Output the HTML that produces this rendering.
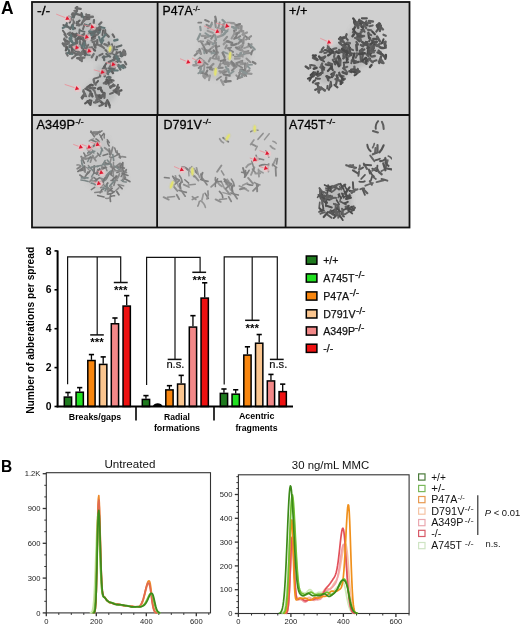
<!DOCTYPE html>
<html><head><meta charset="utf-8"><title>Figure</title>
<style>html,body{margin:0;padding:0;background:#fff;overflow:hidden;}svg{display:block;}text{font-family:'Liberation Sans',Arial,sans-serif;}</style>
</head><body>
<svg width="520" height="626" viewBox="0 0 520 626">
<rect width="520" height="626" fill="#fff"/>
<g style="font-family:'Liberation Sans',Arial,sans-serif" font-weight="bold" fill="#000">
<text x="0.9" y="13.8" font-size="17.6" font-weight="bold" textLength="12.6" lengthAdjust="spacingAndGlyphs" fill="#000">A</text>
<text x="1.0" y="472.3" font-size="17.4" font-weight="bold" textLength="11.2" lengthAdjust="spacingAndGlyphs" fill="#000">B</text>
</g>
<rect x="32" y="2" width="377.5" height="225.5" fill="#d0d0d0"/>
<defs><filter id="b2" x="-20%" y="-20%" width="140%" height="140%"><feGaussianBlur stdDeviation="2"/></filter><filter id="b4" x="-30%" y="-30%" width="160%" height="160%"><feGaussianBlur stdDeviation="4"/></filter><filter id="soft" x="0" y="0" width="100%" height="100%"><feGaussianBlur stdDeviation="0.55"/></filter><clipPath id="pc"><rect x="32" y="2" width="377.5" height="225.5"/></clipPath></defs>
<g clip-path="url(#pc)"><g filter="url(#soft)">
<polygon points="78.6,13.3 90.5,15.6 100.7,25.8 109.2,33.2 116.9,42.0 121.1,52.4 121.1,67.7 109.2,67.7 102.4,60.9 94.8,59.2 82.0,57.5 70.1,53.2 66.7,43.4 67.6,33.2 71.0,21.4" fill="#a8acac" opacity="0.45" filter="url(#b2)"/>
<polygon points="96.3,65.3 110.8,65.3 111.7,79.7 97.2,79.7" fill="#a8acac" opacity="0.45" filter="url(#b2)"/>
<polygon points="116.2,93.0 115.6,96.3 114.0,99.4 111.4,102.0 108.1,104.0 104.2,105.3 100.0,105.8 95.8,105.3 91.9,104.0 88.6,102.0 86.0,99.4 84.4,96.3 83.8,93.0 84.4,89.7 86.0,86.6 88.6,84.0 91.9,82.0 95.8,80.7 100.0,80.2 104.2,80.7 108.1,82.0 111.4,84.0 114.0,86.6 115.6,89.7" fill="#a8acac" opacity="0.45" filter="url(#b2)"/>
<path d="M95.5 35.4L92.0 38.1M89.8 32.1L92.2 34.6M86.5 50.6L85.1 55.1" fill="none" stroke="#5e5e5e" stroke-width="2.5" stroke-linecap="round"/>
<path d="M88.3 44.9L85.6 48.8M82.6 37.2Q84.6 39.1 87.4 38.8M64.3 38.4Q65.0 40.6 65.5 43.0M96.7 44.0L101.4 46.4M73.1 35.3L75.4 37.9M115.1 67.3L113.6 70.7M75.5 55.7L71.9 58.4" fill="none" stroke="#707070" stroke-width="2.0" stroke-linecap="round"/>
<path d="M121.2 65.6Q122.5 66.2 123.8 65.8M81.7 13.9Q82.1 16.2 83.8 18.0M88.6 34.5L85.2 36.0M69.8 39.2L72.1 41.9" fill="none" stroke="#607474" stroke-width="2.3" stroke-linecap="round"/>
<path d="M125.5 53.1L122.5 55.8M78.4 51.9Q79.8 53.3 80.5 55.2M69.1 35.0L72.2 36.0M122.9 65.0Q124.5 65.8 125.3 67.4M121.4 45.4L116.6 47.1M102.0 39.7Q102.3 41.8 101.5 43.9M108.4 68.2L111.2 68.4" fill="none" stroke="#646a6a" stroke-width="2.1" stroke-linecap="round"/>
<path d="M107.9 56.1L102.7 57.3M106.3 53.9L110.1 56.6M123.6 51.4L120.4 55.8M69.5 45.4Q71.0 45.9 71.5 47.4" fill="none" stroke="#646a6a" stroke-width="2.2" stroke-linecap="round"/>
<path d="M124.8 61.8L126.2 64.3M105.5 50.1L108.7 52.7" fill="none" stroke="#6a6a6a" stroke-width="2.2" stroke-linecap="round"/>
<path d="M93.7 54.0L91.8 57.2M104.3 44.2Q106.4 44.9 108.2 46.0M97.9 34.6L92.7 34.7M114.3 46.7L112.6 51.4M64.5 34.4L66.7 37.3" fill="none" stroke="#707070" stroke-width="2.3" stroke-linecap="round"/>
<path d="M105.2 30.1L105.1 33.9M84.0 40.8Q82.8 42.6 82.8 44.9M125.1 51.3L122.7 52.6M84.7 50.9Q82.9 52.2 81.0 53.4M79.8 35.7L76.8 39.7" fill="none" stroke="#686868" stroke-width="2.1" stroke-linecap="round"/>
<path d="M89.2 18.8L85.2 19.0M64.3 39.5Q66.3 41.2 68.8 42.0M84.1 34.1Q81.9 35.2 80.4 37.1M116.9 53.1L113.9 57.7M117.5 61.7Q115.7 61.8 114.2 62.9M114.7 59.5Q112.9 59.9 112.0 61.4" fill="none" stroke="#686868" stroke-width="2.4" stroke-linecap="round"/>
<path d="M77.5 38.3L76.2 43.5M110.7 63.6Q111.5 65.4 112.9 66.8M118.6 64.9Q118.9 67.5 120.4 69.6M114.7 57.7Q116.9 58.2 119.1 58.9M103.8 56.3L104.2 60.1" fill="none" stroke="#646a6a" stroke-width="2.3" stroke-linecap="round"/>
<path d="M102.6 53.9L99.3 55.5M84.6 24.2L83.0 29.1" fill="none" stroke="#6a6a6a" stroke-width="2.0" stroke-linecap="round"/>
<path d="M84.6 40.9L86.1 46.0M75.4 12.9Q73.2 13.0 71.7 14.8M73.1 19.9Q73.4 21.5 74.4 22.7M112.2 64.1Q110.4 65.1 109.6 66.9" fill="none" stroke="#707070" stroke-width="1.9" stroke-linecap="round"/>
<path d="M97.1 56.7L96.0 60.0M75.6 8.2L80.7 8.8M112.6 34.4L114.2 37.0M112.2 60.5L108.7 62.1M90.6 25.0L87.2 26.0" fill="none" stroke="#686868" stroke-width="2.2" stroke-linecap="round"/>
<path d="M78.3 57.8Q79.2 59.1 80.1 60.2M120.4 51.9Q118.5 52.9 116.5 52.1M68.3 43.6L64.3 45.5M122.9 53.3Q124.4 53.2 125.4 54.4M93.7 31.0Q93.0 33.2 94.0 35.3M94.1 43.0Q93.6 45.3 94.8 47.3M81.1 53.3Q83.8 54.4 86.5 53.7" fill="none" stroke="#686868" stroke-width="2.0" stroke-linecap="round"/>
<path d="M80.9 54.4L75.5 55.0M113.9 54.5L117.7 57.0M112.3 49.1Q114.7 49.7 117.2 49.6M72.3 13.4L74.4 15.0M118.0 56.1Q116.6 57.3 115.0 58.3" fill="none" stroke="#646a6a" stroke-width="1.9" stroke-linecap="round"/>
<path d="M76.7 47.7L75.8 51.3M116.8 64.8L118.8 66.3M69.0 42.9L64.8 43.5M88.1 50.1L88.5 53.5M95.5 41.3L92.6 42.1M84.4 57.7L80.0 57.7M72.5 33.1L70.6 35.8" fill="none" stroke="#707070" stroke-width="2.2" stroke-linecap="round"/>
<path d="M74.3 10.7L76.9 11.4M100.2 45.2Q102.6 46.2 104.2 48.3M117.9 60.4Q119.5 61.0 120.9 62.0M73.7 22.2L72.3 27.1M66.2 53.2L67.7 55.6M83.6 53.4Q85.8 54.1 88.0 54.7" fill="none" stroke="#707070" stroke-width="2.1" stroke-linecap="round"/>
<path d="M123.6 51.2Q124.2 53.1 125.1 54.9M83.7 49.9L80.4 54.1M116.0 55.3L117.5 59.2M79.9 41.2Q80.0 43.0 80.4 44.8M123.8 50.3L123.2 54.7M92.8 16.8L88.0 17.2" fill="none" stroke="#707070" stroke-width="2.5" stroke-linecap="round"/>
<path d="M99.0 37.0L100.7 42.0M71.8 41.0L73.5 43.9M95.2 32.3L91.1 35.4M99.6 26.4Q101.9 27.7 104.5 28.0" fill="none" stroke="#607474" stroke-width="2.1" stroke-linecap="round"/>
<path d="M116.2 56.3L118.6 60.6M77.0 41.4L73.4 44.4M100.2 28.3L99.4 32.5M89.3 31.4Q92.0 32.1 94.7 32.0M117.4 39.8L114.3 40.5" fill="none" stroke="#607474" stroke-width="2.5" stroke-linecap="round"/>
<path d="M77.2 58.3Q79.7 58.2 82.2 58.5M77.5 35.0Q75.7 36.1 73.6 36.2M90.1 24.1L91.7 27.7M80.5 46.5L82.6 48.3M105.4 33.4L108.7 36.7" fill="none" stroke="#6a6a6a" stroke-width="2.4" stroke-linecap="round"/>
<path d="M112.0 44.1Q111.9 45.6 112.5 47.0" fill="none" stroke="#6a6a6a" stroke-width="1.9" stroke-linecap="round"/>
<path d="M120.7 52.9Q120.6 54.7 121.8 56.1" fill="none" stroke="#646a6a" stroke-width="2.5" stroke-linecap="round"/>
<path d="M76.1 44.8L75.4 50.2M73.0 13.3L73.0 17.5" fill="none" stroke="#6a6a6a" stroke-width="2.1" stroke-linecap="round"/>
<path d="M100.3 29.5Q98.8 30.0 97.2 29.9M110.3 68.9L113.0 73.1M88.0 15.4Q86.7 17.1 84.6 17.3" fill="none" stroke="#5e5e5e" stroke-width="2.4" stroke-linecap="round"/>
<path d="M111.4 49.8L112.2 53.5M80.7 57.2Q81.6 59.0 81.8 61.1M77.5 53.3Q79.4 53.6 80.9 54.7" fill="none" stroke="#707070" stroke-width="2.4" stroke-linecap="round"/>
<path d="M77.0 6.4L76.9 10.5M62.8 43.4L64.3 45.5" fill="none" stroke="#6a6a6a" stroke-width="2.5" stroke-linecap="round"/>
<path d="M79.6 20.5L76.5 23.4" fill="none" stroke="#5e5e5e" stroke-width="2.1" stroke-linecap="round"/>
<path d="M103.1 30.1L102.4 35.1M81.5 13.0L81.6 16.7M72.3 24.8L70.3 29.0" fill="none" stroke="#5e5e5e" stroke-width="1.9" stroke-linecap="round"/>
<path d="M76.1 13.9L80.6 15.1" fill="none" stroke="#686868" stroke-width="2.3" stroke-linecap="round"/>
<path d="M69.6 38.3L71.9 41.8M86.0 24.9Q87.3 25.9 88.9 25.6M119.0 66.0L123.5 68.0M67.8 52.9Q70.0 53.5 72.4 53.9" fill="none" stroke="#607474" stroke-width="2.4" stroke-linecap="round"/>
<path d="M92.1 48.4L95.0 50.5M71.5 33.9L76.1 34.7M76.6 33.8L75.4 36.2M71.0 18.5L69.7 22.5" fill="none" stroke="#5e5e5e" stroke-width="2.3" stroke-linecap="round"/>
<path d="M67.0 47.3Q67.4 49.1 68.9 50.1M112.4 61.3Q113.5 62.7 113.7 64.5" fill="none" stroke="#607474" stroke-width="2.0" stroke-linecap="round"/>
<path d="M96.9 30.1Q95.1 31.2 94.1 33.0M82.9 39.6L84.7 41.4" fill="none" stroke="#686868" stroke-width="2.5" stroke-linecap="round"/>
<path d="M96.8 28.5Q97.0 31.0 98.4 33.0M69.1 51.0L70.0 53.7M114.8 64.2Q113.3 66.2 112.9 68.7" fill="none" stroke="#646a6a" stroke-width="2.4" stroke-linecap="round"/>
<path d="M84.7 20.1Q82.2 21.6 81.5 24.4M110.3 49.7L110.0 53.7M97.3 40.1Q97.5 42.5 96.7 44.7M77.1 21.9Q78.5 23.5 79.1 25.5M108.6 42.5L109.7 45.9M101.4 22.4L99.2 24.5" fill="none" stroke="#6a6a6a" stroke-width="2.3" stroke-linecap="round"/>
<path d="M63.4 25.1L66.1 25.9" fill="none" stroke="#5e5e5e" stroke-width="2.0" stroke-linecap="round"/>
<path d="M62.9 30.6Q64.4 32.4 65.5 34.5M86.2 14.2Q87.7 15.5 88.9 17.2" fill="none" stroke="#686868" stroke-width="1.9" stroke-linecap="round"/>
<path d="M105.5 34.6L102.0 38.8M114.0 70.4L117.7 70.5M103.3 40.1Q102.5 41.1 101.9 42.4" fill="none" stroke="#607474" stroke-width="2.2" stroke-linecap="round"/>
<path d="M85.1 53.6L89.9 55.0M68.6 16.5L71.8 17.4" fill="none" stroke="#607474" stroke-width="1.9" stroke-linecap="round"/>
<path d="M110.9 79.8L113.5 80.5M101.1 72.2L100.0 76.4M104.8 66.4L102.7 69.2" fill="none" stroke="#686868" stroke-width="2.3" stroke-linecap="round"/>
<path d="M108.7 76.8L110.3 80.5M103.8 70.8L104.7 76.2" fill="none" stroke="#646a6a" stroke-width="2.5" stroke-linecap="round"/>
<path d="M113.2 69.4L108.1 70.9" fill="none" stroke="#646a6a" stroke-width="2.2" stroke-linecap="round"/>
<path d="M104.4 66.9L105.8 69.1" fill="none" stroke="#686868" stroke-width="2.1" stroke-linecap="round"/>
<path d="M110.5 77.3Q108.7 77.0 107.0 77.5" fill="none" stroke="#646a6a" stroke-width="2.3" stroke-linecap="round"/>
<path d="M105.2 72.6L101.4 73.5" fill="none" stroke="#607474" stroke-width="2.4" stroke-linecap="round"/>
<path d="M105.7 69.4L108.1 74.1" fill="none" stroke="#6a6a6a" stroke-width="2.3" stroke-linecap="round"/>
<path d="M110.3 71.2L107.5 73.2" fill="none" stroke="#607474" stroke-width="2.2" stroke-linecap="round"/>
<path d="M106.0 68.6L106.2 73.3" fill="none" stroke="#707070" stroke-width="2.3" stroke-linecap="round"/>
<path d="M98.6 77.3L94.1 78.6" fill="none" stroke="#686868" stroke-width="1.9" stroke-linecap="round"/>
<path d="M106.5 63.0L104.2 66.6" fill="none" stroke="#5e5e5e" stroke-width="2.0" stroke-linecap="round"/>
<path d="M90.7 92.5L89.4 96.1M116.3 89.2L119.1 93.0M109.2 82.6L103.8 83.2M93.6 79.6Q93.8 82.5 95.7 84.7" fill="none" stroke="#6c6c6c" stroke-width="2.4" stroke-linecap="round"/>
<path d="M113.7 90.8L117.4 93.3M99.7 95.8Q99.8 97.5 98.5 98.6M111.7 82.0L107.5 82.8" fill="none" stroke="#6c6c6c" stroke-width="2.5" stroke-linecap="round"/>
<path d="M114.5 85.5L110.1 86.7M83.5 95.4L81.8 97.5M118.8 87.5Q116.3 88.8 114.4 90.9" fill="none" stroke="#646464" stroke-width="2.6" stroke-linecap="round"/>
<path d="M98.0 101.6Q96.2 102.8 94.0 102.4M113.3 84.3L110.4 88.0M84.4 95.1L82.2 98.6" fill="none" stroke="#646464" stroke-width="2.1" stroke-linecap="round"/>
<path d="M100.5 88.8L102.1 91.7M100.7 87.9Q99.3 88.0 98.1 88.8M91.7 93.8Q91.5 95.2 92.4 96.3M91.2 84.8L87.4 87.4M110.7 80.7L105.7 81.7M104.2 93.0L101.0 97.8" fill="none" stroke="#5a5a5a" stroke-width="2.6" stroke-linecap="round"/>
<path d="M87.6 101.2L90.4 104.7" fill="none" stroke="#5a5a5a" stroke-width="2.4" stroke-linecap="round"/>
<path d="M90.3 85.0L92.9 85.1M98.1 80.9L96.5 82.8" fill="none" stroke="#5a5a5a" stroke-width="2.0" stroke-linecap="round"/>
<path d="M86.5 89.1L90.5 91.3" fill="none" stroke="#5a5a5a" stroke-width="2.2" stroke-linecap="round"/>
<path d="M95.1 88.1Q92.5 87.9 89.9 88.3M96.7 95.5Q99.6 95.6 102.5 95.9M104.6 93.7L104.4 97.7" fill="none" stroke="#646464" stroke-width="2.4" stroke-linecap="round"/>
<path d="M92.4 87.3Q92.7 89.1 93.9 90.6M110.2 81.6L108.5 84.7M94.5 90.5L95.8 95.3M109.0 103.4L109.8 107.6" fill="none" stroke="#6c6c6c" stroke-width="2.0" stroke-linecap="round"/>
<path d="M108.0 80.1Q107.6 82.3 106.0 83.8" fill="none" stroke="#646464" stroke-width="2.3" stroke-linecap="round"/>
<path d="M106.6 79.5L108.4 82.6M121.3 90.4Q118.5 91.2 115.7 91.7M100.5 101.5L102.6 103.2" fill="none" stroke="#5a5a5a" stroke-width="2.5" stroke-linecap="round"/>
<path d="M89.7 87.3Q87.2 87.5 85.2 88.9M118.0 84.8Q116.5 87.2 116.8 90.1M104.2 103.5Q102.0 105.3 99.2 105.9M113.0 92.8L110.0 93.9M83.8 95.1Q85.1 95.2 86.1 96.2" fill="none" stroke="#646464" stroke-width="2.0" stroke-linecap="round"/>
<path d="M89.9 100.1L85.2 103.4M99.4 95.5L97.6 99.5M108.0 101.5L109.6 105.5M107.3 100.3Q105.8 102.9 105.9 105.9" fill="none" stroke="#5a5a5a" stroke-width="2.3" stroke-linecap="round"/>
<path d="M96.8 99.1L95.6 102.3M118.4 90.1L118.9 94.7" fill="none" stroke="#6c6c6c" stroke-width="2.3" stroke-linecap="round"/>
<path d="M83.3 91.6Q84.4 93.0 85.3 94.6M107.1 101.4L105.9 105.9" fill="none" stroke="#646464" stroke-width="2.2" stroke-linecap="round"/>
<path d="M96.2 96.9Q98.6 98.7 100.3 101.1M83.4 90.2L85.0 95.9" fill="none" stroke="#6c6c6c" stroke-width="2.2" stroke-linecap="round"/>
<path d="M91.5 100.6Q90.8 102.0 90.8 103.7" fill="none" stroke="#5a5a5a" stroke-width="2.1" stroke-linecap="round"/>
<path d="M82.1 36.6L85.3 40.3M79.9 24.8Q78.4 24.7 76.9 25.2" fill="none" stroke="#6a6a6a" stroke-width="2.2" stroke-linecap="round"/>
<path d="M84.6 53.6L79.5 54.5M92.1 47.5L88.3 49.9M86.6 47.8L89.9 51.9" fill="none" stroke="#707070" stroke-width="2.2" stroke-linecap="round"/>
<path d="M77.6 50.7L80.2 54.2M89.2 15.2L86.6 15.4" fill="none" stroke="#707070" stroke-width="2.5" stroke-linecap="round"/>
<path d="M66.2 25.0Q65.2 27.3 62.8 27.9" fill="none" stroke="#607474" stroke-width="2.2" stroke-linecap="round"/>
<path d="M72.1 27.2Q73.5 27.9 75.0 28.3" fill="none" stroke="#5e5e5e" stroke-width="2.3" stroke-linecap="round"/>
<path d="M65.2 45.2Q65.9 46.3 65.9 47.6M95.4 27.7Q95.5 29.9 97.2 31.3" fill="none" stroke="#707070" stroke-width="2.3" stroke-linecap="round"/>
<path d="M79.6 29.5L79.2 33.1M90.3 49.1L90.5 51.6" fill="none" stroke="#707070" stroke-width="1.9" stroke-linecap="round"/>
<path d="M77.3 42.6Q76.4 44.1 75.5 45.7M94.0 20.1L93.7 23.1M95.0 44.7Q95.4 46.2 95.5 47.7" fill="none" stroke="#686868" stroke-width="2.2" stroke-linecap="round"/>
<path d="M72.0 48.9L76.0 51.1M66.8 23.2Q66.2 25.0 66.9 26.7" fill="none" stroke="#646a6a" stroke-width="2.2" stroke-linecap="round"/>
<path d="M71.7 46.8L72.1 52.1M84.1 49.2Q83.9 51.6 85.3 53.6" fill="none" stroke="#5e5e5e" stroke-width="2.1" stroke-linecap="round"/>
<path d="M71.9 51.5L76.4 54.2" fill="none" stroke="#6a6a6a" stroke-width="2.4" stroke-linecap="round"/>
<path d="M80.9 45.4L76.1 47.5" fill="none" stroke="#607474" stroke-width="1.9" stroke-linecap="round"/>
<path d="M67.0 47.3L65.9 50.3M77.9 38.6Q79.5 38.3 81.1 38.9" fill="none" stroke="#5e5e5e" stroke-width="2.4" stroke-linecap="round"/>
<path d="M99.9 27.2L95.5 30.1" fill="none" stroke="#686868" stroke-width="2.4" stroke-linecap="round"/>
<path d="M85.4 17.7Q83.8 19.1 83.3 21.2" fill="none" stroke="#707070" stroke-width="2.4" stroke-linecap="round"/>
<path d="M89.4 47.6L92.0 47.6M70.3 32.5Q69.0 33.3 67.6 33.9" fill="none" stroke="#707070" stroke-width="2.1" stroke-linecap="round"/>
<path d="M71.0 35.2Q71.6 37.6 71.1 40.1" fill="none" stroke="#607474" stroke-width="2.3" stroke-linecap="round"/>
<path d="M76.3 12.8Q74.4 14.9 73.9 17.7M90.7 29.4Q92.6 29.5 94.2 30.5M79.8 30.4L84.6 31.8" fill="none" stroke="#646a6a" stroke-width="1.9" stroke-linecap="round"/>
<path d="M72.6 44.5L69.4 47.0M66.6 26.2Q68.5 26.8 69.9 28.3" fill="none" stroke="#646a6a" stroke-width="2.4" stroke-linecap="round"/>
<path d="M96.4 31.5L91.9 33.3" fill="none" stroke="#646a6a" stroke-width="2.3" stroke-linecap="round"/>
<path d="M72.4 25.6L73.1 29.0" fill="none" stroke="#607474" stroke-width="2.5" stroke-linecap="round"/>
<path d="M79.3 45.2L82.8 46.3" fill="none" stroke="#607474" stroke-width="2.1" stroke-linecap="round"/>
<path d="M84.2 42.8L84.4 48.3" fill="none" stroke="#607474" stroke-width="2.0" stroke-linecap="round"/>
<path d="M75.6 39.6L76.3 42.6" fill="none" stroke="#686868" stroke-width="2.1" stroke-linecap="round"/>
<path d="M95.2 38.1L91.4 40.4" fill="none" stroke="#707070" stroke-width="2.0" stroke-linecap="round"/>
<line x1="56.2" y1="14.1" x2="69.6" y2="19.4" stroke="#ec8890" stroke-width="0.9" stroke-opacity="0.85"/>
<circle cx="68.0" cy="18.8" r="3.4" fill="#f4c4c8" opacity="0.6"/>
<polygon points="69.6,19.4 65.4,20.1 67.0,16.0" fill="#e01830"/>
<line x1="84" y1="25" x2="94.5" y2="27.4" stroke="#ec8890" stroke-width="0.9" stroke-opacity="0.85"/>
<circle cx="92.9" cy="27.0" r="3.4" fill="#f4c4c8" opacity="0.6"/>
<polygon points="94.5,27.4 90.5,28.8 91.5,24.4" fill="#e01830"/>
<line x1="76.8" y1="34.7" x2="89" y2="37.6" stroke="#ec8890" stroke-width="0.9" stroke-opacity="0.85"/>
<circle cx="87.4" cy="37.2" r="3.4" fill="#f4c4c8" opacity="0.6"/>
<polygon points="89.0,37.6 84.9,38.9 86.0,34.6" fill="#e01830"/>
<line x1="72" y1="46.8" x2="79.2" y2="48" stroke="#ec8890" stroke-width="0.9" stroke-opacity="0.85"/>
<circle cx="77.5" cy="47.7" r="3.4" fill="#f4c4c8" opacity="0.6"/>
<polygon points="79.2,48.0 75.2,49.6 76.0,45.2" fill="#e01830"/>
<line x1="84" y1="49.2" x2="91.4" y2="51.7" stroke="#ec8890" stroke-width="0.9" stroke-opacity="0.85"/>
<circle cx="89.8" cy="51.2" r="3.4" fill="#f4c4c8" opacity="0.6"/>
<polygon points="91.4,51.7 87.2,52.7 88.7,48.4" fill="#e01830"/>
<line x1="106" y1="62.6" x2="115.6" y2="65" stroke="#ec8890" stroke-width="0.9" stroke-opacity="0.85"/>
<circle cx="114.0" cy="64.6" r="3.4" fill="#f4c4c8" opacity="0.6"/>
<polygon points="115.6,65.0 111.5,66.3 112.6,61.9" fill="#e01830"/>
<line x1="93.8" y1="69.8" x2="104.7" y2="72.8" stroke="#ec8890" stroke-width="0.9" stroke-opacity="0.85"/>
<circle cx="103.1" cy="72.4" r="3.4" fill="#f4c4c8" opacity="0.6"/>
<polygon points="104.7,72.8 100.6,74.0 101.8,69.7" fill="#e01830"/>
<line x1="64.7" y1="84.4" x2="79.2" y2="89.2" stroke="#ec8890" stroke-width="0.9" stroke-opacity="0.85"/>
<circle cx="77.6" cy="88.7" r="3.4" fill="#f4c4c8" opacity="0.6"/>
<polygon points="79.2,89.2 75.0,90.2 76.4,85.9" fill="#e01830"/>
<ellipse cx="110" cy="49" rx="2.7" ry="4.2" fill="#d0d0b0" opacity="0.6" transform="rotate(10 110 49)"/>
<ellipse cx="110" cy="49" rx="1.275" ry="3.0" fill="#e4e46a" opacity="0.9" transform="rotate(10 110 49)"/>
<polygon points="202.5,25.4 215.7,24.0 230.5,24.6 237.8,29.7 245.0,40.1 250.9,50.3 249.5,62.2 245.0,70.7 234.8,75.4 222.9,79.8 211.3,78.4 205.4,73.8 198.0,66.5 199.6,54.6 201.0,44.4 202.5,32.7" fill="#b4b4b4" opacity="0.5" filter="url(#b2)"/>
<path d="M206.5 24.8Q208.4 25.9 210.4 26.8M200.7 41.3Q202.4 44.0 203.9 46.8M224.6 58.8Q224.4 61.2 223.1 63.3M235.5 67.3L232.0 70.6M228.8 48.1Q230.7 50.9 230.1 54.3M233.1 63.0L236.6 66.8M197.6 62.5L194.8 65.3" fill="none" stroke="#858585" stroke-width="2.0" stroke-linecap="round"/>
<path d="M228.6 41.2Q225.5 41.6 223.7 44.2M246.8 73.4Q249.1 73.7 251.5 73.8M221.1 80.1L223.5 84.7M245.4 63.4Q243.0 64.3 240.5 64.0M218.6 56.6L218.7 60.1" fill="none" stroke="#969696" stroke-width="2.3" stroke-linecap="round"/>
<path d="M242.9 70.1Q243.8 71.7 245.0 73.1M202.2 48.5L206.8 52.4M251.6 44.1L247.9 46.5M244.4 70.9L246.9 73.2M239.6 30.7L243.3 31.1M238.7 24.7L241.2 27.9" fill="none" stroke="#969696" stroke-width="2.2" stroke-linecap="round"/>
<path d="M223.0 30.0L227.5 31.3M233.6 71.2L229.7 74.3M252.0 64.7L248.6 64.9M223.5 51.7Q225.8 53.1 228.4 53.8" fill="none" stroke="#8a9494" stroke-width="1.8" stroke-linecap="round"/>
<path d="M213.5 63.9L210.4 66.7M223.6 60.4Q225.6 62.6 228.5 62.8M205.2 62.6L202.4 64.2M224.0 23.9Q222.5 26.7 222.2 29.8M218.0 52.4Q216.2 54.5 216.2 57.2M242.3 77.0L238.5 77.7M227.0 36.9L224.1 40.4M250.1 53.0Q247.0 53.4 243.9 53.5" fill="none" stroke="#8e8e8e" stroke-width="2.2" stroke-linecap="round"/>
<path d="M222.3 28.5Q220.7 29.7 218.9 30.7M226.2 77.4L225.8 81.9M239.2 32.4L236.2 33.7M216.0 68.9Q213.1 69.9 210.1 69.1" fill="none" stroke="#858585" stroke-width="2.4" stroke-linecap="round"/>
<path d="M221.9 28.9Q221.6 31.2 220.6 33.2M216.0 42.8Q214.0 42.7 212.6 44.1M204.6 49.8Q204.2 51.4 204.5 53.0M228.0 69.1L228.8 72.3" fill="none" stroke="#8a9494" stroke-width="2.3" stroke-linecap="round"/>
<path d="M240.1 36.2Q238.2 38.0 235.6 38.3M243.2 43.0Q242.9 46.3 240.9 48.9M243.5 39.2L243.4 43.5M222.7 67.8L218.4 67.9M213.8 35.0L211.2 38.7M199.5 49.1L200.9 54.0" fill="none" stroke="#858585" stroke-width="2.1" stroke-linecap="round"/>
<path d="M199.5 64.4Q196.6 65.5 193.4 65.2M221.7 35.5L217.8 36.9M209.9 75.7Q206.9 76.5 203.9 77.1M231.8 54.6Q231.0 57.2 228.8 58.8M227.5 22.9Q230.7 22.7 233.8 23.3M246.9 32.5L242.5 34.6" fill="none" stroke="#969696" stroke-width="2.4" stroke-linecap="round"/>
<path d="M231.1 47.4Q229.6 48.7 227.5 48.3M216.8 52.2L213.0 57.0M210.9 35.9Q207.7 36.4 204.9 38.1M213.2 46.6L208.4 50.7M236.8 64.5L242.2 67.7" fill="none" stroke="#858585" stroke-width="1.9" stroke-linecap="round"/>
<path d="M235.9 27.3Q236.6 28.8 235.9 30.4M235.3 24.6Q237.8 25.7 238.8 28.2M209.9 42.7Q207.8 43.9 205.4 44.5M241.6 26.1Q241.0 28.7 241.4 31.3M224.8 64.0L228.9 64.3" fill="none" stroke="#8e8e8e" stroke-width="2.3" stroke-linecap="round"/>
<path d="M234.0 30.3Q234.5 32.1 234.7 34.0M245.1 35.9L249.3 38.9M237.3 33.5Q236.5 36.7 234.1 38.9" fill="none" stroke="#7e7e7e" stroke-width="1.9" stroke-linecap="round"/>
<path d="M221.0 76.6L216.8 79.8M219.3 46.2Q217.7 46.4 216.4 47.4M204.6 62.6L207.7 64.5M243.0 72.2L246.3 76.0M240.0 70.8L240.0 73.9" fill="none" stroke="#858585" stroke-width="1.8" stroke-linecap="round"/>
<path d="M214.9 45.5Q213.5 46.8 211.9 47.7M234.6 33.2L231.6 38.4M201.8 35.9Q204.9 35.6 207.8 36.8" fill="none" stroke="#969696" stroke-width="2.1" stroke-linecap="round"/>
<path d="M252.7 62.0L255.4 63.6M222.6 52.7L224.6 57.1M223.8 74.4L229.6 75.7M236.5 44.0Q234.1 45.4 231.3 44.8M230.6 81.1L224.4 81.5M201.2 72.6L207.1 74.7M217.6 28.4L221.8 31.9M213.6 50.5L215.7 53.7" fill="none" stroke="#7e7e7e" stroke-width="2.3" stroke-linecap="round"/>
<path d="M203.7 71.1Q200.5 71.0 198.3 73.3M200.5 65.5Q200.5 67.4 200.9 69.3M244.7 53.9L239.8 56.6M247.0 65.7L249.8 68.4" fill="none" stroke="#8a9494" stroke-width="1.9" stroke-linecap="round"/>
<path d="M214.9 20.8L215.8 27.1M211.9 22.6L210.5 26.8M236.3 75.3Q237.7 77.0 239.7 78.0" fill="none" stroke="#8e8e8e" stroke-width="2.0" stroke-linecap="round"/>
<path d="M205.3 50.0L211.4 51.9M198.3 50.8Q197.5 53.9 194.7 55.4M245.1 63.9L245.2 70.2M203.2 64.9L198.9 67.9" fill="none" stroke="#858585" stroke-width="2.3" stroke-linecap="round"/>
<path d="M220.6 63.6L218.8 67.8M227.6 62.7L228.3 65.9M249.3 70.4L245.7 72.4M203.6 61.1L199.6 63.1" fill="none" stroke="#8e8e8e" stroke-width="2.4" stroke-linecap="round"/>
<path d="M222.6 24.5Q224.4 26.4 224.5 29.0M230.2 62.8L234.6 67.3M226.7 45.4L225.3 48.4M210.4 58.2L208.8 61.5M236.9 48.6L241.4 50.5" fill="none" stroke="#8e8e8e" stroke-width="2.1" stroke-linecap="round"/>
<path d="M200.9 68.1Q199.8 70.6 200.5 73.2M233.5 27.0Q234.7 28.3 236.5 28.5M205.4 33.2L209.5 36.1M214.6 53.0Q213.0 52.6 211.5 53.5M228.3 29.0L224.4 34.2" fill="none" stroke="#8a9494" stroke-width="2.0" stroke-linecap="round"/>
<path d="M231.4 61.3L234.2 65.6M207.3 70.6Q206.2 73.9 203.4 75.8M240.1 24.1L236.7 25.1" fill="none" stroke="#7e7e7e" stroke-width="2.1" stroke-linecap="round"/>
<path d="M252.9 50.2Q251.5 52.1 251.2 54.4M211.4 67.4L207.2 67.6M235.8 47.6L239.4 47.8M229.5 54.4L233.3 55.1M205.1 20.0L208.8 21.6M240.4 69.4L243.8 69.9M225.4 59.9L220.4 60.9M207.2 42.0L209.4 44.4M230.1 50.5Q231.5 51.1 232.9 51.9" fill="none" stroke="#7e7e7e" stroke-width="2.0" stroke-linecap="round"/>
<path d="M227.2 41.3L232.1 42.8" fill="none" stroke="#7e7e7e" stroke-width="2.4" stroke-linecap="round"/>
<path d="M240.8 70.5L246.4 73.5M200.2 34.0L197.6 39.5M222.4 19.9Q223.8 21.1 225.1 22.5M215.1 34.7L216.0 39.9M231.8 26.8L234.6 28.3M199.0 58.8L195.5 61.8" fill="none" stroke="#8a9494" stroke-width="2.2" stroke-linecap="round"/>
<path d="M225.8 32.0L222.8 35.1M244.3 72.4Q243.0 74.0 241.7 75.8M239.2 39.2Q240.4 40.3 241.7 41.2" fill="none" stroke="#8a9494" stroke-width="2.4" stroke-linecap="round"/>
<path d="M209.9 75.7L209.0 80.2M203.6 74.6L204.9 78.3M247.6 63.1Q246.3 65.2 245.8 67.6M207.6 30.9L212.9 32.9M240.9 48.3L244.5 53.2" fill="none" stroke="#969696" stroke-width="2.0" stroke-linecap="round"/>
<path d="M242.2 60.9L236.3 63.2M199.9 58.0L202.2 60.0M241.6 40.2L238.2 43.5M226.3 71.5L222.6 72.8" fill="none" stroke="#858585" stroke-width="2.2" stroke-linecap="round"/>
<path d="M236.7 54.2L240.9 56.4M204.6 64.0L204.0 70.3M196.7 51.4L200.7 53.6" fill="none" stroke="#969696" stroke-width="1.8" stroke-linecap="round"/>
<path d="M204.2 47.4L206.8 53.0M201.3 22.6L198.3 22.7M239.4 74.4Q238.8 76.9 237.5 79.0" fill="none" stroke="#7e7e7e" stroke-width="1.8" stroke-linecap="round"/>
<path d="M239.7 58.6L234.8 58.8M243.1 44.5L238.5 47.0M240.3 53.0L242.8 56.7M248.0 46.5Q246.1 47.6 244.0 48.1M243.2 31.9Q243.4 33.4 243.4 35.0M207.9 40.2L212.1 42.8" fill="none" stroke="#969696" stroke-width="1.9" stroke-linecap="round"/>
<path d="M203.2 41.3Q200.9 41.3 198.6 41.4M244.2 36.8L242.6 42.7M240.6 61.5L243.5 63.4" fill="none" stroke="#8e8e8e" stroke-width="1.8" stroke-linecap="round"/>
<path d="M238.9 72.9Q242.4 73.2 244.5 76.0M229.0 26.3L225.2 26.4M219.3 71.3L222.7 71.8M212.1 57.9Q215.1 59.4 218.4 58.5M246.4 58.5L250.4 62.2M234.8 56.6L238.2 56.6M251.2 36.1L246.0 39.6M248.5 50.9Q246.8 52.1 244.7 51.6M214.6 40.7Q215.7 43.0 216.3 45.5M225.0 70.0L220.3 72.8M219.6 22.4L218.3 28.6" fill="none" stroke="#8e8e8e" stroke-width="1.9" stroke-linecap="round"/>
<path d="M215.2 16.7Q216.1 19.3 216.1 22.1M215.9 45.8L216.8 52.2M248.6 43.9L251.1 47.6" fill="none" stroke="#7e7e7e" stroke-width="2.2" stroke-linecap="round"/>
<path d="M241.2 52.9L238.4 56.2M200.2 26.7L200.7 30.3M250.5 45.3Q252.9 47.2 254.8 49.5M211.8 24.5L208.1 28.2M225.8 66.9L228.0 70.5M227.0 23.5L223.8 28.9" fill="none" stroke="#8a9494" stroke-width="2.1" stroke-linecap="round"/>
<line x1="204" y1="25.8" x2="219.5" y2="32.6" stroke="#ec8890" stroke-width="0.9" stroke-opacity="0.85"/>
<circle cx="218.0" cy="31.9" r="3.4" fill="#f4c4c8" opacity="0.6"/>
<polygon points="219.5,32.6 215.3,33.2 217.1,29.1" fill="#e01830"/>
<line x1="216" y1="23" x2="229.3" y2="26.7" stroke="#ec8890" stroke-width="0.9" stroke-opacity="0.85"/>
<circle cx="227.7" cy="26.2" r="3.4" fill="#f4c4c8" opacity="0.6"/>
<polygon points="229.3,26.7 225.2,27.9 226.4,23.6" fill="#e01830"/>
<line x1="180" y1="58.7" x2="190.4" y2="63" stroke="#ec8890" stroke-width="0.9" stroke-opacity="0.85"/>
<circle cx="188.8" cy="62.4" r="3.4" fill="#f4c4c8" opacity="0.6"/>
<polygon points="190.4,63.0 186.2,63.7 187.9,59.5" fill="#e01830"/>
<line x1="192" y1="58" x2="201.6" y2="63" stroke="#ec8890" stroke-width="0.9" stroke-opacity="0.85"/>
<circle cx="200.1" cy="62.2" r="3.4" fill="#f4c4c8" opacity="0.6"/>
<polygon points="201.6,63.0 197.3,63.3 199.4,59.3" fill="#e01830"/>
<ellipse cx="230" cy="56" rx="2.7" ry="5.2" fill="#d0d0b0" opacity="0.6" transform="rotate(5 230 56)"/>
<ellipse cx="230" cy="56" rx="1.275" ry="4.0" fill="#e4e46a" opacity="0.9" transform="rotate(5 230 56)"/>
<ellipse cx="215.5" cy="71.7" rx="2.7" ry="5.2" fill="#d0d0b0" opacity="0.6" transform="rotate(5 215.5 71.7)"/>
<ellipse cx="215.5" cy="71.7" rx="1.275" ry="4.0" fill="#e4e46a" opacity="0.9" transform="rotate(5 215.5 71.7)"/>
<polygon points="316.0,57.5 313.9,67.8 318.0,78.1 322.2,84.2 334.5,82.2 346.9,76.0 359.2,67.8 369.6,63.7 377.7,59.4 379.8,45.2 375.8,30.7 365.4,24.6 353.1,26.6 346.9,36.9 334.5,47.2 324.2,51.4" fill="#a0a0a0" opacity="0.45" filter="url(#b2)"/>
<path d="M359.5 71.4L354.7 72.3M385.8 54.9Q386.1 56.9 385.3 58.7M329.5 48.6Q331.4 50.2 333.3 51.8M354.1 34.1L352.5 36.3M346.8 55.1L347.5 59.6M331.8 52.5Q330.2 54.2 328.2 55.3M321.2 73.1Q319.4 74.1 317.5 74.8M349.8 47.7L349.3 51.9M319.1 56.5Q320.1 57.8 320.9 59.2M367.9 47.3L372.9 49.1M354.3 53.6L353.1 58.4M366.1 58.0L366.0 61.4" fill="none" stroke="#4a4a4a" stroke-width="2.5" stroke-linecap="round"/>
<path d="M376.1 44.2L378.1 46.2M331.0 86.3Q329.1 87.5 328.8 89.8M345.7 50.3L347.3 54.6M363.2 26.1Q363.0 28.3 363.1 30.5M316.0 78.2Q317.9 78.9 319.9 78.7M324.9 50.1Q326.5 49.8 327.7 50.9M342.6 82.6L340.5 84.0M372.6 48.2Q369.9 49.1 367.2 48.3M330.7 81.9L331.4 86.0M363.7 22.7L360.0 24.1M346.1 37.9Q346.6 39.1 347.8 39.8M324.5 57.4L321.3 57.7M337.5 57.2Q338.6 58.6 339.5 60.2M342.5 77.0L341.4 80.5M364.5 43.9L362.4 45.8M334.4 84.9L337.5 87.3" fill="none" stroke="#525252" stroke-width="2.1" stroke-linecap="round"/>
<path d="M374.7 45.3Q377.3 44.7 379.3 46.4M376.1 41.9L371.5 43.9M340.4 60.0Q340.1 62.6 340.1 65.3M313.1 57.9L317.1 59.8M319.5 88.4L318.4 91.6M376.8 25.5L378.9 28.6M335.6 79.2Q338.4 79.5 340.6 81.4M353.1 32.2Q354.7 32.5 356.2 32.9M364.0 36.0Q361.7 36.5 359.5 37.4" fill="none" stroke="#606060" stroke-width="2.6" stroke-linecap="round"/>
<path d="M384.6 44.2Q385.1 45.3 385.3 46.6M362.2 42.1Q363.7 43.3 365.3 44.4M313.9 57.4Q316.2 57.9 317.5 59.8M357.2 34.0L360.5 34.1M371.7 40.5Q373.9 42.4 376.8 41.8M329.7 49.1L328.3 51.4M382.2 54.3L384.6 56.9M357.4 39.1L359.5 41.1M358.7 61.9L354.3 62.9M359.9 51.0L362.2 52.3M347.9 43.0L348.8 46.2" fill="none" stroke="#525252" stroke-width="2.5" stroke-linecap="round"/>
<path d="M351.8 60.6L356.3 61.5M374.8 56.0Q373.3 56.3 371.8 56.6M385.5 42.3Q384.8 44.1 385.8 45.7M328.3 45.3Q328.1 47.1 328.8 48.7M378.6 50.5Q379.7 51.6 381.0 52.4M348.5 47.9L346.2 50.5M336.8 80.8L336.1 84.0M320.9 74.2Q319.4 75.2 317.7 76.0M346.6 34.3L345.5 37.3M360.8 45.0L363.0 46.3M322.2 69.1L322.5 72.8M379.9 59.4Q379.5 61.1 379.2 63.0M323.5 47.5Q321.4 49.3 321.3 52.0" fill="none" stroke="#5a5a5a" stroke-width="2.3" stroke-linecap="round"/>
<path d="M329.8 52.2L334.3 53.0M344.7 47.9L342.1 48.6M330.8 67.7L327.9 71.0M372.3 42.8L368.2 45.5M368.0 50.4L367.6 54.3M368.4 32.6Q368.4 35.3 369.0 37.9M365.6 43.5Q368.2 43.8 369.9 45.7M359.4 19.7L358.3 22.7M311.7 77.1Q309.9 78.0 308.0 78.7M371.4 52.9L368.6 54.0M357.1 73.3Q356.3 74.8 354.6 75.3M369.9 51.7L370.5 55.6M372.2 31.5L374.9 34.2" fill="none" stroke="#4a4a4a" stroke-width="2.2" stroke-linecap="round"/>
<path d="M338.5 55.9L340.0 59.3M371.6 65.1L370.0 67.0M313.5 72.7L310.8 75.1M369.8 58.5L366.6 60.5M353.2 18.4L355.9 22.2M347.0 51.3L346.1 55.7M317.8 71.8Q317.7 73.5 316.2 74.5M347.8 43.2L343.8 45.3M355.1 26.7L353.8 29.6" fill="none" stroke="#4a4a4a" stroke-width="2.4" stroke-linecap="round"/>
<path d="M375.0 50.5L371.2 51.9M326.7 52.4Q325.6 53.2 324.2 53.0M376.5 60.3L372.5 61.6M358.1 53.8Q356.5 55.5 355.8 57.7M366.3 21.1L364.8 24.0M352.1 60.1L351.3 63.3" fill="none" stroke="#5a5a5a" stroke-width="2.0" stroke-linecap="round"/>
<path d="M332.8 59.9Q334.5 61.9 335.3 64.5M374.0 48.0L371.3 48.1M334.0 73.4Q332.4 73.4 331.2 74.4M367.8 48.8L370.1 51.1M313.5 72.2L312.9 76.6M374.5 44.3L372.9 46.7" fill="none" stroke="#4a4a4a" stroke-width="2.1" stroke-linecap="round"/>
<path d="M321.3 88.6Q323.2 89.3 325.1 90.3M385.6 41.5L382.9 42.9M383.4 34.7Q384.6 35.3 385.8 35.8M339.0 75.1L343.6 76.3M336.4 48.3Q334.7 48.7 333.0 49.0M361.9 21.4Q359.8 23.0 357.2 23.4M368.0 29.9L371.1 30.3M372.7 25.4L369.4 26.3M359.0 22.1L362.2 23.0M365.8 22.6L370.3 23.1M357.5 22.2L355.3 26.1M372.0 45.8L369.9 49.8M335.1 52.0L334.0 57.0" fill="none" stroke="#606060" stroke-width="2.1" stroke-linecap="round"/>
<path d="M377.1 38.9L373.2 38.9M349.3 71.1L351.7 72.1M364.3 49.5L360.3 50.7M339.7 50.4L342.3 52.2M339.2 72.8L340.3 76.0M377.5 52.4L381.9 54.4M325.8 64.4Q328.4 65.3 331.0 64.8" fill="none" stroke="#525252" stroke-width="2.3" stroke-linecap="round"/>
<path d="M344.9 69.4L347.3 72.5M366.1 59.8L367.9 61.6M347.3 66.7L342.9 68.2M330.6 83.4L329.6 86.2M310.1 64.9L310.4 67.9M323.5 51.1L320.0 52.2M379.1 23.0L377.0 25.3" fill="none" stroke="#606060" stroke-width="2.0" stroke-linecap="round"/>
<path d="M352.0 53.4L349.9 55.0M340.1 37.9Q341.5 40.6 340.2 43.4M365.9 42.0L364.5 45.1M339.1 49.9L339.8 52.5M363.1 50.6Q361.6 50.6 360.6 51.8M381.0 56.4L380.2 60.0M344.2 51.0L343.4 56.3" fill="none" stroke="#5a5a5a" stroke-width="2.4" stroke-linecap="round"/>
<path d="M366.7 42.1Q367.3 44.6 369.7 45.7M349.8 55.4Q348.8 56.7 347.2 56.9M347.2 42.6Q348.6 42.9 349.9 43.2M356.4 53.4L361.2 54.2M369.7 52.1L373.8 52.4M344.4 37.5Q343.3 38.2 342.2 39.0M354.4 66.8L354.6 71.4M346.8 47.3L344.1 49.0M379.9 26.2L383.0 29.5" fill="none" stroke="#606060" stroke-width="2.4" stroke-linecap="round"/>
<path d="M362.1 49.0Q360.7 51.1 359.9 53.5M325.2 56.5Q323.6 58.0 322.1 59.7M344.7 78.8Q343.4 79.5 342.4 80.6M336.0 58.6Q336.9 61.0 335.7 63.2M318.5 83.3L315.6 83.7" fill="none" stroke="#5a5a5a" stroke-width="2.5" stroke-linecap="round"/>
<path d="M320.4 59.2L324.1 61.5M320.3 67.2Q322.4 68.1 324.0 69.7M327.5 86.0Q327.6 87.3 327.2 88.5M341.6 45.0Q343.5 46.0 345.6 45.7M340.4 37.1L342.0 41.5M353.9 20.8Q353.6 22.7 354.9 24.3M370.4 38.1L369.1 41.4M321.7 64.5Q322.3 66.7 324.4 67.8M361.3 29.8L364.6 31.7" fill="none" stroke="#525252" stroke-width="2.0" stroke-linecap="round"/>
<path d="M344.8 43.1L343.6 47.3M366.8 18.3L361.9 18.3M315.3 80.2Q313.6 80.8 312.9 82.5M368.2 49.0L369.1 54.3M317.3 84.3Q317.6 86.0 319.0 87.1M331.8 67.1Q331.8 68.8 332.8 70.1M367.1 42.1L364.7 43.7M318.4 88.0Q317.1 89.4 315.2 89.8" fill="none" stroke="#525252" stroke-width="2.2" stroke-linecap="round"/>
<path d="M362.9 54.8Q362.3 57.5 362.0 60.1M366.4 54.3L368.5 56.2M356.4 41.9L358.0 44.6M378.7 61.7Q380.7 61.7 382.2 63.0M357.7 68.9L358.6 72.1M311.4 65.0L314.8 65.8M336.6 51.3L340.4 51.7M339.9 60.2Q338.5 61.0 337.6 62.3M355.5 70.2Q356.9 71.2 357.8 72.7M378.6 28.3L376.3 31.6" fill="none" stroke="#5a5a5a" stroke-width="2.2" stroke-linecap="round"/>
<path d="M374.1 45.8L371.9 50.3M350.5 49.0L353.1 50.1M344.9 47.3Q343.7 49.7 343.7 52.4M344.0 64.6L344.2 69.5M360.5 56.4L360.9 61.6M368.5 33.6L371.2 35.1M339.0 42.7L343.5 45.9" fill="none" stroke="#5a5a5a" stroke-width="2.1" stroke-linecap="round"/>
<path d="M336.1 51.7Q337.2 52.9 338.9 52.9M311.0 77.8L309.6 80.6M346.4 57.3L346.8 60.4M346.1 52.4L350.6 53.6M344.3 50.3L347.0 52.7M348.2 62.2L343.7 62.8M383.5 39.3Q382.7 41.4 381.5 43.4" fill="none" stroke="#4a4a4a" stroke-width="2.0" stroke-linecap="round"/>
<path d="M363.9 30.2L360.8 32.3M368.9 21.0L372.9 21.5M379.9 43.8L377.0 45.7M359.4 35.4L360.8 40.6" fill="none" stroke="#606060" stroke-width="2.5" stroke-linecap="round"/>
<path d="M343.9 37.6Q341.4 37.8 339.2 38.9M349.5 51.1L351.1 55.0M363.8 23.1L367.3 25.2M342.7 72.2L346.6 73.9M377.3 25.1Q378.3 26.8 378.3 28.7M336.7 75.4L337.6 78.0M356.4 44.9L356.9 50.3M379.8 23.8L377.8 27.3M359.8 21.2L364.3 23.4M366.2 42.5L366.7 45.1" fill="none" stroke="#525252" stroke-width="2.6" stroke-linecap="round"/>
<path d="M335.3 58.8Q333.9 58.9 333.0 59.9M327.9 45.4Q328.4 46.9 327.6 48.3M318.1 88.2Q319.3 90.2 319.0 92.6M363.8 24.1L366.2 28.2M318.1 86.7Q319.0 88.4 320.5 89.6M362.1 61.3L366.4 63.6M380.7 58.9L383.6 63.1M355.1 37.9Q357.3 38.5 359.6 38.4M368.6 58.7L372.8 62.3" fill="none" stroke="#606060" stroke-width="2.3" stroke-linecap="round"/>
<path d="M333.5 74.9L331.8 76.8M342.0 49.4L345.9 51.7M364.7 53.2L359.4 54.1M336.0 61.6Q338.4 63.3 338.8 66.1M331.6 65.7L331.4 68.5M316.5 67.8L313.8 68.7M315.7 55.5Q314.4 55.9 313.0 55.5" fill="none" stroke="#4a4a4a" stroke-width="2.6" stroke-linecap="round"/>
<path d="M351.3 71.1Q353.2 71.2 354.8 72.3M326.4 76.3Q328.4 76.4 329.8 77.7M353.1 29.2L355.1 32.3M366.6 60.6Q365.7 62.1 366.4 63.7M360.4 23.8L361.8 27.0M341.2 76.5L343.1 79.1M365.7 57.9L362.2 61.0M341.2 81.4Q340.6 82.7 340.9 84.0" fill="none" stroke="#4a4a4a" stroke-width="2.3" stroke-linecap="round"/>
<path d="M380.3 47.5Q382.9 48.3 385.7 47.7M359.5 20.5L361.5 22.0M353.1 59.2L354.5 62.6M326.9 76.2L328.4 80.3M351.2 69.6Q353.9 68.9 356.3 70.3M305.7 66.5L308.5 68.5M362.3 36.0L357.3 36.2M315.1 72.5L313.8 75.8" fill="none" stroke="#525252" stroke-width="2.4" stroke-linecap="round"/>
<path d="M322.2 63.5L320.6 67.4M321.0 87.2L324.7 90.7M357.4 24.3Q358.9 25.2 360.6 25.7" fill="none" stroke="#606060" stroke-width="2.2" stroke-linecap="round"/>
<path d="M356.2 23.0L358.2 27.7M345.2 56.3L343.3 58.3M334.5 72.1L332.5 75.7M340.1 38.7L343.6 42.0M328.4 62.8Q330.1 63.8 332.0 64.2M380.8 25.5Q380.5 28.2 379.8 30.8M377.1 36.7L379.9 41.4" fill="none" stroke="#5a5a5a" stroke-width="2.6" stroke-linecap="round"/>
<line x1="320.3" y1="38.3" x2="331.2" y2="43.2" stroke="#ec8890" stroke-width="0.9" stroke-opacity="0.85"/>
<circle cx="329.7" cy="42.5" r="3.4" fill="#f4c4c8" opacity="0.6"/>
<polygon points="331.2,43.2 327.0,43.8 328.8,39.7" fill="#e01830"/>
<polygon points="94.2,136.4 108.6,138.5 110.7,148.8 119.0,157.0 125.2,171.3 127.1,181.7 120.9,187.9 110.7,194.1 98.3,192.0 90.1,185.7 83.9,177.6 81.8,165.3 86.1,157.0 92.0,148.8" fill="#bababa" opacity="0.45" filter="url(#b2)"/>
<path d="M118.4 184.7Q120.1 186.9 122.1 188.7M96.1 139.0Q98.7 140.0 99.4 142.6M126.3 169.7L124.0 174.6M117.6 167.0L124.3 168.1M107.4 187.1Q109.2 190.4 112.8 191.4" fill="none" stroke="#7a7a7a" stroke-width="1.8" stroke-linecap="round"/>
<path d="M117.1 150.9L117.2 154.4M116.1 175.8Q116.5 179.4 113.9 182.0" fill="none" stroke="#838383" stroke-width="1.6" stroke-linecap="round"/>
<path d="M107.0 175.1L106.3 179.3M92.8 155.5L90.4 162.1M110.5 166.4Q111.6 168.0 113.6 168.2M98.8 154.3L95.2 157.8" fill="none" stroke="#8a8a8a" stroke-width="1.7" stroke-linecap="round"/>
<path d="M81.1 156.4L84.3 163.2M112.2 188.4L108.1 191.7M102.2 189.3L100.0 192.8M107.4 141.5Q107.6 144.1 109.2 146.0M123.6 170.2L116.9 172.4M107.8 154.1L103.1 155.5" fill="none" stroke="#747474" stroke-width="1.6" stroke-linecap="round"/>
<path d="M112.8 147.2L110.8 154.3M80.8 166.2Q79.1 167.6 77.2 168.8M90.8 132.2L97.0 134.3M100.7 171.1Q100.5 173.4 98.8 175.1" fill="none" stroke="#838383" stroke-width="1.8" stroke-linecap="round"/>
<path d="M104.4 185.4L103.4 189.5M101.6 179.9Q103.4 180.7 105.3 180.3M94.0 173.0Q92.5 174.9 91.6 177.1M90.4 156.4L87.7 161.6M91.6 149.3Q93.4 150.8 93.9 153.1M101.7 187.6L107.1 189.2" fill="none" stroke="#7c8686" stroke-width="1.4" stroke-linecap="round"/>
<path d="M97.9 169.5L96.6 174.1M110.9 165.0Q112.2 167.9 114.8 169.6M110.7 194.7Q109.5 198.0 110.5 201.5M92.1 157.4L85.1 159.0M91.9 140.3L96.0 141.8M90.9 131.2Q92.3 134.1 94.4 136.6M110.1 172.2L106.8 178.1M83.8 153.0Q85.2 154.5 85.2 156.6M88.0 172.0L84.9 177.3" fill="none" stroke="#7a7a7a" stroke-width="1.7" stroke-linecap="round"/>
<path d="M90.1 170.5Q89.3 172.8 87.2 174.0M99.6 168.6L97.3 173.9M103.8 133.4L100.8 136.9M107.2 139.8L109.3 142.6M114.6 195.8Q111.9 195.5 109.9 197.2M121.9 173.1Q124.7 174.8 128.0 175.4" fill="none" stroke="#747474" stroke-width="1.5" stroke-linecap="round"/>
<path d="M125.5 177.2L122.8 179.5M93.9 177.4Q96.4 178.5 97.2 181.2M102.3 167.2L106.5 167.6M93.4 132.0L100.2 132.1M79.8 175.0L84.9 178.5" fill="none" stroke="#7a7a7a" stroke-width="1.6" stroke-linecap="round"/>
<path d="M114.0 170.5Q112.5 172.8 113.6 175.4M93.7 138.9Q91.1 139.4 89.2 141.1" fill="none" stroke="#8a8a8a" stroke-width="1.4" stroke-linecap="round"/>
<path d="M103.1 181.4L98.0 181.8M118.3 184.6Q121.1 184.9 123.7 185.9M88.3 165.4L92.6 170.3M85.7 158.3Q83.0 158.1 81.3 160.1M110.8 180.5L117.5 180.6M77.0 165.0Q78.9 164.6 80.6 165.5M104.4 164.1L107.0 170.8M110.2 173.9L113.3 176.6M124.8 175.5Q125.2 178.9 122.7 181.3" fill="none" stroke="#838383" stroke-width="1.4" stroke-linecap="round"/>
<path d="M100.6 178.2Q102.9 179.4 105.6 179.5M119.4 174.0Q118.7 177.2 116.5 179.7M81.7 157.4L87.0 158.6M119.2 157.2Q122.4 156.2 125.5 157.2M92.6 155.7Q94.0 158.3 95.9 160.7M104.6 147.7L109.6 151.7M120.0 164.8L120.0 170.9M92.7 178.0L89.7 181.8" fill="none" stroke="#8a8a8a" stroke-width="1.8" stroke-linecap="round"/>
<path d="M105.3 177.4Q103.8 179.7 103.1 182.4M83.9 169.3Q82.4 170.6 80.4 170.5M107.8 183.0Q106.0 184.5 105.9 186.9M122.8 162.6L122.4 169.9M116.9 191.7L118.9 194.8M124.8 178.8L129.8 181.5M116.9 176.3Q113.7 177.4 112.2 180.4M105.1 167.6Q102.4 169.8 99.0 170.1M94.2 165.8L94.0 173.2M83.8 167.2Q80.9 169.3 77.9 171.4" fill="none" stroke="#747474" stroke-width="1.8" stroke-linecap="round"/>
<path d="M110.0 150.2L110.2 155.2M121.8 169.8L126.6 172.7M103.8 184.1L100.6 187.6M102.2 191.7L94.8 192.6" fill="none" stroke="#838383" stroke-width="1.5" stroke-linecap="round"/>
<path d="M119.5 153.9L113.0 157.2M112.1 170.3L110.5 174.0M104.5 134.2Q104.0 136.1 104.2 138.0M109.5 156.8Q111.3 157.5 113.2 157.3M91.8 148.8Q89.1 150.4 87.6 153.2M94.8 145.5Q91.8 145.8 89.9 148.1" fill="none" stroke="#7a7a7a" stroke-width="1.4" stroke-linecap="round"/>
<path d="M114.3 191.6Q111.5 194.4 107.6 194.0M121.7 163.9Q120.4 165.6 120.6 167.7M84.6 166.1L85.0 170.7M97.3 142.2L92.4 147.1M99.4 177.9L94.6 180.9M104.1 162.3Q107.0 164.5 110.6 163.7" fill="none" stroke="#747474" stroke-width="1.7" stroke-linecap="round"/>
<path d="M102.1 166.3L100.8 171.5M113.5 162.4Q113.5 165.2 113.1 168.0M85.7 167.1Q87.9 167.7 88.8 169.8M110.1 197.6Q108.0 198.7 105.7 198.3M123.2 175.4L123.3 179.5" fill="none" stroke="#8a8a8a" stroke-width="1.5" stroke-linecap="round"/>
<path d="M120.2 163.3L114.6 167.5M99.8 131.4L95.4 134.9M92.6 151.9Q90.1 154.9 86.4 155.9M107.6 187.6L107.6 194.2M99.1 143.0Q96.8 142.7 95.0 144.0M83.5 168.6Q83.7 170.7 85.2 172.2" fill="none" stroke="#838383" stroke-width="1.7" stroke-linecap="round"/>
<path d="M88.0 177.8L81.4 177.9M112.8 154.6L113.7 160.5M81.6 160.8Q81.4 163.9 83.2 166.4M108.1 164.4L103.6 164.6M88.4 167.2Q91.2 168.0 92.8 170.4M98.0 166.2L91.7 167.2" fill="none" stroke="#7c8686" stroke-width="1.7" stroke-linecap="round"/>
<path d="M115.0 181.8Q114.1 183.6 113.9 185.5M117.2 152.7Q120.0 154.7 120.2 158.2M102.0 130.9L97.1 133.7M99.5 134.4Q101.5 136.9 102.4 139.9M93.4 171.5Q94.8 173.3 97.0 173.8M109.1 148.8Q109.2 151.7 109.7 154.6M114.7 147.9L116.1 152.4M97.5 153.1L100.0 156.3M113.1 167.9Q111.8 171.4 111.3 175.2M94.7 187.4L91.3 189.6" fill="none" stroke="#7a7a7a" stroke-width="1.5" stroke-linecap="round"/>
<path d="M105.1 160.5Q104.6 162.9 102.6 164.4M107.2 160.1L111.5 165.1M102.0 148.9L100.5 154.3M107.3 184.5Q107.2 188.0 105.1 190.8M101.8 165.6Q99.4 165.3 97.4 166.6M114.6 166.1Q117.2 167.9 119.7 170.0" fill="none" stroke="#7c8686" stroke-width="1.6" stroke-linecap="round"/>
<path d="M121.3 180.2Q123.4 182.3 126.3 182.0M100.0 145.8L102.7 150.8M80.9 180.1Q84.6 180.5 88.2 181.4M94.9 151.2L88.5 152.8M110.5 171.1Q107.8 173.4 105.9 176.2" fill="none" stroke="#7c8686" stroke-width="1.5" stroke-linecap="round"/>
<path d="M118.8 187.8L115.8 190.6M86.8 148.0Q87.7 150.2 89.5 151.7M111.8 186.5L107.4 191.1M91.4 180.7Q93.9 180.7 96.3 181.4M115.3 170.7L121.6 170.9M111.0 158.6L110.2 162.3" fill="none" stroke="#8a8a8a" stroke-width="1.6" stroke-linecap="round"/>
<path d="M97.6 195.5L104.1 197.0M123.5 171.3Q122.7 174.2 121.1 176.6" fill="none" stroke="#747474" stroke-width="1.4" stroke-linecap="round"/>
<path d="M91.3 183.1Q93.5 183.1 95.1 184.7M114.6 180.4L109.8 186.1" fill="none" stroke="#7c8686" stroke-width="1.8" stroke-linecap="round"/>
<line x1="73.2" y1="144.3" x2="82.9" y2="148" stroke="#ec8890" stroke-width="0.9" stroke-opacity="0.85"/>
<circle cx="81.3" cy="147.4" r="3.4" fill="#f4c4c8" opacity="0.6"/>
<polygon points="82.9,148.0 78.7,148.8 80.3,144.6" fill="#e01830"/>
<line x1="81.7" y1="144.3" x2="91.4" y2="148" stroke="#ec8890" stroke-width="0.9" stroke-opacity="0.85"/>
<circle cx="89.8" cy="147.4" r="3.4" fill="#f4c4c8" opacity="0.6"/>
<polygon points="91.4,148.0 87.2,148.8 88.8,144.6" fill="#e01830"/>
<line x1="90.2" y1="141.9" x2="99.8" y2="145.5" stroke="#ec8890" stroke-width="0.9" stroke-opacity="0.85"/>
<circle cx="98.2" cy="144.9" r="3.4" fill="#f4c4c8" opacity="0.6"/>
<polygon points="99.8,145.5 95.6,146.3 97.2,142.1" fill="#e01830"/>
<line x1="97.4" y1="171" x2="103.5" y2="173.4" stroke="#ec8890" stroke-width="0.9" stroke-opacity="0.85"/>
<circle cx="101.9" cy="172.8" r="3.4" fill="#f4c4c8" opacity="0.6"/>
<polygon points="103.5,173.4 99.3,174.2 100.9,170.0" fill="#e01830"/>
<line x1="93.8" y1="181.8" x2="101" y2="184.3" stroke="#ec8890" stroke-width="0.9" stroke-opacity="0.85"/>
<circle cx="99.4" cy="183.7" r="3.4" fill="#f4c4c8" opacity="0.6"/>
<polygon points="101.0,184.3 96.8,185.2 98.3,181.0" fill="#e01830"/>
<path d="M173.7 180.6Q177.5 182.5 178.5 186.7" fill="none" stroke="#969696" stroke-width="1.5" stroke-linecap="round"/>
<path d="M179.0 190.3Q182.5 191.7 186.3 192.3" fill="none" stroke="#7e7e7e" stroke-width="1.7" stroke-linecap="round"/>
<path d="M179.6 183.8L180.6 188.5M172.8 176.4Q174.1 178.8 176.0 180.8" fill="none" stroke="#7e7e7e" stroke-width="1.8" stroke-linecap="round"/>
<path d="M173.6 186.3L177.4 190.9M163.6 197.2L168.7 199.6" fill="none" stroke="#8e8e8e" stroke-width="1.9" stroke-linecap="round"/>
<path d="M175.4 175.8L176.9 182.4" fill="none" stroke="#969696" stroke-width="1.8" stroke-linecap="round"/>
<path d="M174.6 196.5L167.5 197.2" fill="none" stroke="#8e8e8e" stroke-width="1.5" stroke-linecap="round"/>
<path d="M181.1 182.1Q179.4 184.8 180.2 187.9" fill="none" stroke="#7e7e7e" stroke-width="1.9" stroke-linecap="round"/>
<path d="M181.0 190.1L185.2 196.2M179.4 175.5Q181.8 178.3 182.3 182.1M179.4 180.6L173.8 185.1" fill="none" stroke="#858585" stroke-width="1.7" stroke-linecap="round"/>
<path d="M164.4 177.6L169.2 178.1" fill="none" stroke="#7e7e7e" stroke-width="1.5" stroke-linecap="round"/>
<path d="M176.7 194.7L179.2 199.1" fill="none" stroke="#858585" stroke-width="1.8" stroke-linecap="round"/>
<path d="M173.9 178.0Q176.7 179.1 179.4 180.1" fill="none" stroke="#858585" stroke-width="1.9" stroke-linecap="round"/>
<path d="M194.8 171.5Q198.6 173.4 199.6 177.6" fill="none" stroke="#969696" stroke-width="1.5" stroke-linecap="round"/>
<path d="M200.7 179.4Q204.2 180.8 208.0 181.4" fill="none" stroke="#7e7e7e" stroke-width="1.7" stroke-linecap="round"/>
<path d="M201.0 174.2L202.0 178.8M193.8 168.6Q195.1 170.9 196.9 172.9M182.1 167.0Q186.1 167.3 188.7 170.4" fill="none" stroke="#7e7e7e" stroke-width="1.8" stroke-linecap="round"/>
<path d="M194.7 176.1L198.5 180.6M183.8 184.6L188.9 187.0" fill="none" stroke="#8e8e8e" stroke-width="1.9" stroke-linecap="round"/>
<path d="M196.5 167.8L198.0 174.4" fill="none" stroke="#969696" stroke-width="1.8" stroke-linecap="round"/>
<path d="M195.3 184.3L188.2 185.0" fill="none" stroke="#8e8e8e" stroke-width="1.5" stroke-linecap="round"/>
<path d="M202.6 172.7Q200.9 175.4 201.7 178.5" fill="none" stroke="#7e7e7e" stroke-width="1.9" stroke-linecap="round"/>
<path d="M202.8 178.7L207.0 184.8M189.3 170.5Q192.1 173.3 194.2 176.7" fill="none" stroke="#858585" stroke-width="1.7" stroke-linecap="round"/>
<path d="M191.9 166.7L188.5 170.2" fill="none" stroke="#858585" stroke-width="1.6" stroke-linecap="round"/>
<path d="M189.8 167.9Q188.1 171.7 189.0 175.8" fill="none" stroke="#969696" stroke-width="1.4" stroke-linecap="round"/>
<path d="M184.8 179.7L188.7 183.1" fill="none" stroke="#7e7e7e" stroke-width="1.5" stroke-linecap="round"/>
<path d="M223.0 192.6Q226.8 193.7 230.7 194.7" fill="none" stroke="#969696" stroke-width="1.5" stroke-linecap="round"/>
<path d="M215.5 177.5Q214.7 180.2 216.2 182.5" fill="none" stroke="#858585" stroke-width="1.7" stroke-linecap="round"/>
<path d="M215.5 183.0L211.1 186.9" fill="none" stroke="#8e8e8e" stroke-width="1.7" stroke-linecap="round"/>
<path d="M221.1 181.0L224.6 188.6" fill="none" stroke="#969696" stroke-width="1.6" stroke-linecap="round"/>
<path d="M224.4 181.4L230.9 185.5" fill="none" stroke="#7e7e7e" stroke-width="1.7" stroke-linecap="round"/>
<path d="M221.4 170.9L223.9 175.0" fill="none" stroke="#8e8e8e" stroke-width="1.5" stroke-linecap="round"/>
<path d="M216.8 180.2Q218.1 184.4 222.0 186.5" fill="none" stroke="#969696" stroke-width="1.7" stroke-linecap="round"/>
<path d="M224.2 179.1L228.6 181.4" fill="none" stroke="#858585" stroke-width="1.9" stroke-linecap="round"/>
<path d="M217.7 178.8Q214.7 182.2 215.4 186.6" fill="none" stroke="#7e7e7e" stroke-width="1.5" stroke-linecap="round"/>
<path d="M221.4 165.5L217.1 171.8" fill="none" stroke="#8e8e8e" stroke-width="1.9" stroke-linecap="round"/>
<path d="M219.4 191.4Q222.6 193.9 222.8 197.9" fill="none" stroke="#7e7e7e" stroke-width="1.6" stroke-linecap="round"/>
<path d="M200.3 200.8Q204.4 202.9 205.4 207.4" fill="none" stroke="#969696" stroke-width="1.6" stroke-linecap="round"/>
<path d="M205.0 193.2Q206.6 195.9 208.4 198.4" fill="none" stroke="#7e7e7e" stroke-width="1.5" stroke-linecap="round"/>
<path d="M207.9 191.0Q209.0 195.1 207.0 198.9" fill="none" stroke="#8e8e8e" stroke-width="1.8" stroke-linecap="round"/>
<path d="M198.0 196.8L192.3 199.5" fill="none" stroke="#8e8e8e" stroke-width="1.7" stroke-linecap="round"/>
<path d="M203.3 194.1Q202.7 197.1 201.9 199.9" fill="none" stroke="#969696" stroke-width="1.7" stroke-linecap="round"/>
<path d="M192.3 196.7L195.9 199.5M199.3 201.5Q199.0 203.9 197.8 206.1" fill="none" stroke="#8e8e8e" stroke-width="1.6" stroke-linecap="round"/>
<path d="M225.7 183.9Q229.5 185.8 230.5 190.0" fill="none" stroke="#969696" stroke-width="1.5" stroke-linecap="round"/>
<path d="M231.0 193.0Q234.5 194.4 238.3 195.0" fill="none" stroke="#7e7e7e" stroke-width="1.7" stroke-linecap="round"/>
<path d="M231.6 187.0L232.6 191.6M224.8 180.1Q226.1 182.5 228.0 184.5" fill="none" stroke="#7e7e7e" stroke-width="1.8" stroke-linecap="round"/>
<path d="M225.6 189.2L229.4 193.8M215.6 199.4L220.7 201.8" fill="none" stroke="#8e8e8e" stroke-width="1.9" stroke-linecap="round"/>
<path d="M227.4 179.4L228.9 186.1" fill="none" stroke="#969696" stroke-width="1.8" stroke-linecap="round"/>
<path d="M226.6 198.8L219.5 199.5" fill="none" stroke="#8e8e8e" stroke-width="1.5" stroke-linecap="round"/>
<path d="M233.1 185.3Q231.4 188.0 232.2 191.1" fill="none" stroke="#7e7e7e" stroke-width="1.9" stroke-linecap="round"/>
<path d="M233.0 192.6L237.2 198.7M231.4 179.2Q233.8 182.0 234.3 185.8M231.4 184.0L225.8 188.5" fill="none" stroke="#858585" stroke-width="1.7" stroke-linecap="round"/>
<path d="M216.4 181.3L221.2 181.8" fill="none" stroke="#7e7e7e" stroke-width="1.5" stroke-linecap="round"/>
<path d="M228.7 196.9L231.2 201.4" fill="none" stroke="#858585" stroke-width="1.8" stroke-linecap="round"/>
<path d="M225.9 181.7Q228.7 182.8 231.4 183.8" fill="none" stroke="#858585" stroke-width="1.9" stroke-linecap="round"/>
<path d="M248.1 177.9L253.0 183.7" fill="none" stroke="#8e8e8e" stroke-width="1.9" stroke-linecap="round"/>
<path d="M258.5 169.5L259.0 176.6" fill="none" stroke="#969696" stroke-width="1.8" stroke-linecap="round"/>
<path d="M241.6 172.2L247.7 173.2M249.1 170.3Q247.1 173.8 244.9 177.1M247.2 184.0Q249.7 185.3 252.5 185.2" fill="none" stroke="#7e7e7e" stroke-width="1.6" stroke-linecap="round"/>
<path d="M247.4 183.1L242.7 185.2" fill="none" stroke="#969696" stroke-width="1.6" stroke-linecap="round"/>
<path d="M239.3 186.0L246.1 188.8M241.6 186.7L248.5 190.9" fill="none" stroke="#969696" stroke-width="1.7" stroke-linecap="round"/>
<path d="M245.6 170.4Q246.4 174.1 244.4 177.3" fill="none" stroke="#7e7e7e" stroke-width="1.5" stroke-linecap="round"/>
<path d="M254.2 182.4Q256.8 184.6 260.2 184.9" fill="none" stroke="#8e8e8e" stroke-width="1.4" stroke-linecap="round"/>
<path d="M254.4 167.3L251.0 174.8M251.0 163.8Q247.8 164.4 246.2 167.2" fill="none" stroke="#969696" stroke-width="1.9" stroke-linecap="round"/>
<path d="M256.8 184.1L257.2 191.4" fill="none" stroke="#858585" stroke-width="1.9" stroke-linecap="round"/>
<path d="M243.0 168.0L245.4 175.9" fill="none" stroke="#7e7e7e" stroke-width="1.9" stroke-linecap="round"/>
<path d="M258.6 185.3L253.0 190.9" fill="none" stroke="#858585" stroke-width="1.8" stroke-linecap="round"/>
<path d="M252.4 169.0L255.3 172.4M251.8 161.2L254.1 169.1" fill="none" stroke="#858585" stroke-width="1.5" stroke-linecap="round"/>
<path d="M244.3 188.3L240.0 189.2" fill="none" stroke="#858585" stroke-width="2.0" stroke-linecap="round"/>
<path d="M268.7 163.9Q267.4 167.7 268.4 171.6M275.9 158.6L272.6 165.6M260.3 173.3L255.3 173.5M259.3 158.9L255.7 161.1" fill="none" stroke="#969696" stroke-width="1.9" stroke-linecap="round"/>
<path d="M267.8 165.2Q263.5 163.7 259.6 165.9" fill="none" stroke="#7e7e7e" stroke-width="1.9" stroke-linecap="round"/>
<path d="M253.9 140.0L250.6 144.5M254.2 158.5L259.5 159.2" fill="none" stroke="#969696" stroke-width="1.7" stroke-linecap="round"/>
<path d="M257.3 146.4Q256.3 148.1 255.4 150.0M272.8 141.2Q275.0 141.6 276.3 143.4M269.2 133.7L264.5 139.6M258.9 170.5L263.2 172.9" fill="none" stroke="#969696" stroke-width="1.5" stroke-linecap="round"/>
<path d="M263.1 133.4L258.0 139.3" fill="none" stroke="#8e8e8e" stroke-width="1.6" stroke-linecap="round"/>
<path d="M256.1 155.3Q256.9 157.3 256.7 159.5M277.4 158.5L276.5 164.0" fill="none" stroke="#858585" stroke-width="1.7" stroke-linecap="round"/>
<path d="M251.9 144.1L255.9 146.1" fill="none" stroke="#8e8e8e" stroke-width="1.8" stroke-linecap="round"/>
<path d="M265.9 150.7L268.9 157.1M257.9 130.3Q254.0 129.4 250.7 131.7" fill="none" stroke="#858585" stroke-width="1.5" stroke-linecap="round"/>
<path d="M270.4 145.9Q272.1 148.2 274.8 149.0" fill="none" stroke="#969696" stroke-width="1.8" stroke-linecap="round"/>
<path d="M275.6 168.0L276.0 175.8" fill="none" stroke="#858585" stroke-width="1.8" stroke-linecap="round"/>
<path d="M272.6 164.3L276.7 167.6M256.3 158.0L263.6 159.8" fill="none" stroke="#858585" stroke-width="1.6" stroke-linecap="round"/>
<path d="M223.1 137.7L228.3 141.7" fill="none" stroke="#7e7e7e" stroke-width="1.8" stroke-linecap="round"/>
<path d="M219.7 138.8Q220.9 141.4 223.5 142.7" fill="none" stroke="#969696" stroke-width="1.8" stroke-linecap="round"/>
<line x1="174" y1="166.5" x2="183.9" y2="170.7" stroke="#ec8890" stroke-width="0.9" stroke-opacity="0.85"/>
<circle cx="182.4" cy="170.0" r="3.4" fill="#f4c4c8" opacity="0.6"/>
<polygon points="183.9,170.7 179.7,171.3 181.4,167.2" fill="#e01830"/>
<line x1="249.8" y1="158" x2="257.1" y2="160.4" stroke="#ec8890" stroke-width="0.9" stroke-opacity="0.85"/>
<circle cx="255.5" cy="159.9" r="3.4" fill="#f4c4c8" opacity="0.6"/>
<polygon points="257.1,160.4 252.9,161.4 254.3,157.1" fill="#e01830"/>
<line x1="259.6" y1="150.6" x2="269.4" y2="154.3" stroke="#ec8890" stroke-width="0.9" stroke-opacity="0.85"/>
<circle cx="267.8" cy="153.7" r="3.4" fill="#f4c4c8" opacity="0.6"/>
<polygon points="269.4,154.3 265.2,155.1 266.8,150.9" fill="#e01830"/>
<line x1="259.6" y1="166.5" x2="268" y2="169" stroke="#ec8890" stroke-width="0.9" stroke-opacity="0.85"/>
<circle cx="266.4" cy="168.5" r="3.4" fill="#f4c4c8" opacity="0.6"/>
<polygon points="268.0,169.0 263.9,170.1 265.2,165.8" fill="#e01830"/>
<ellipse cx="192.4" cy="171.4" rx="2.7" ry="5.2" fill="#d0d0b0" opacity="0.6" transform="rotate(0 192.4 171.4)"/>
<ellipse cx="192.4" cy="171.4" rx="1.275" ry="4.0" fill="#e4e46a" opacity="0.9" transform="rotate(0 192.4 171.4)"/>
<ellipse cx="171.7" cy="184.8" rx="2.7" ry="5.2" fill="#d0d0b0" opacity="0.6" transform="rotate(20 171.7 184.8)"/>
<ellipse cx="171.7" cy="184.8" rx="1.275" ry="4.0" fill="#e4e46a" opacity="0.9" transform="rotate(20 171.7 184.8)"/>
<ellipse cx="227.8" cy="137.2" rx="2.7" ry="4.7" fill="#d0d0b0" opacity="0.6" transform="rotate(30 227.8 137.2)"/>
<ellipse cx="227.8" cy="137.2" rx="1.275" ry="3.5" fill="#e4e46a" opacity="0.9" transform="rotate(30 227.8 137.2)"/>
<ellipse cx="254.7" cy="128.7" rx="2.7" ry="4.7" fill="#d0d0b0" opacity="0.6" transform="rotate(0 254.7 128.7)"/>
<ellipse cx="254.7" cy="128.7" rx="1.275" ry="3.5" fill="#e4e46a" opacity="0.9" transform="rotate(0 254.7 128.7)"/>
<polygon points="320.9,193.4 331.1,186.6 344.7,188.3 351.5,193.4 351.5,208.7 343.8,215.5 331.1,215.5 322.6,210.4" fill="#8a8a8a" opacity="0.3" filter="url(#b2)"/>
<path d="M353.6 206.4L347.6 208.2M345.3 184.7Q342.5 186.3 340.2 188.6M354.9 207.8Q353.8 210.1 351.4 211.1M330.6 195.9L323.8 196.5M320.7 198.2L324.5 202.1" fill="none" stroke="#575757" stroke-width="2.1" stroke-linecap="round"/>
<path d="M318.3 194.9L325.0 195.4M330.6 210.1L334.6 215.5M318.3 194.8L322.1 199.5M326.0 190.0L330.8 191.0M337.3 206.0L336.0 212.8M340.8 201.8L345.9 204.5M331.1 186.6Q328.8 188.5 325.9 188.2M320.5 194.0L317.6 197.3" fill="none" stroke="#575757" stroke-width="1.7" stroke-linecap="round"/>
<path d="M327.5 214.8L331.5 217.8M320.6 196.7Q322.7 196.7 324.4 197.8" fill="none" stroke="#575757" stroke-width="2.0" stroke-linecap="round"/>
<path d="M332.2 185.9Q329.7 187.0 327.5 188.4M325.7 201.1Q325.8 203.8 326.0 206.4" fill="none" stroke="#575757" stroke-width="1.6" stroke-linecap="round"/>
<path d="M319.5 188.2Q321.1 190.7 323.3 192.8M339.0 211.9Q339.3 214.5 340.4 216.8M346.8 191.7L344.0 193.9M338.4 205.9Q338.9 209.2 339.3 212.5M333.9 203.9L338.1 205.2" fill="none" stroke="#5f5f5f" stroke-width="2.1" stroke-linecap="round"/>
<path d="M328.4 188.8Q327.2 191.8 326.9 195.1M322.5 203.2L323.4 208.8M337.1 208.2Q334.5 209.8 331.8 211.2M344.2 190.9L347.6 197.0M341.4 213.7L344.0 216.6M329.2 212.7L335.0 214.5M337.9 215.3Q341.2 216.8 342.8 220.1M324.0 210.3L320.5 211.1" fill="none" stroke="#4e4e4e" stroke-width="1.8" stroke-linecap="round"/>
<path d="M349.5 187.4L346.5 191.3M330.8 186.8L330.4 191.1M328.0 212.1L323.7 217.0M349.6 190.9L354.2 191.5" fill="none" stroke="#4e4e4e" stroke-width="2.2" stroke-linecap="round"/>
<path d="M339.5 193.9Q339.5 195.9 338.2 197.6M337.4 213.8Q338.5 215.7 338.2 217.8M319.8 202.3L319.3 206.6M348.5 211.8Q346.0 214.4 342.5 214.6M340.9 197.0L340.0 201.7M348.9 205.6L345.3 206.8M349.9 194.2Q348.9 196.2 346.7 196.7M336.6 186.3L332.2 188.0" fill="none" stroke="#5f5f5f" stroke-width="1.7" stroke-linecap="round"/>
<path d="M322.8 209.4L319.0 211.9M334.9 187.7Q337.3 187.7 339.1 189.5M329.8 211.4Q330.9 213.8 333.2 214.9" fill="none" stroke="#575757" stroke-width="1.8" stroke-linecap="round"/>
<path d="M319.3 208.0L322.0 210.8M324.5 198.9L329.6 199.6M345.8 208.4Q348.4 208.9 351.0 209.4M322.5 197.6Q325.4 199.6 327.0 202.8" fill="none" stroke="#4e4e4e" stroke-width="2.1" stroke-linecap="round"/>
<path d="M342.0 208.7Q342.9 210.8 341.8 212.9M324.9 212.2Q322.5 212.5 320.5 213.7M332.2 196.3Q330.3 197.8 327.9 197.4M336.1 197.9Q333.2 197.6 330.8 199.1M336.1 188.3Q334.2 190.5 331.7 192.0" fill="none" stroke="#5f5f5f" stroke-width="2.0" stroke-linecap="round"/>
<path d="M336.1 215.5L333.7 218.1M320.0 191.4Q321.1 193.0 322.2 194.5M337.3 208.9L340.4 211.6M347.9 201.8Q346.4 203.2 344.3 203.2M342.0 193.4L343.8 197.7" fill="none" stroke="#4e4e4e" stroke-width="1.9" stroke-linecap="round"/>
<path d="M351.6 206.7Q352.0 208.9 354.0 210.0M344.3 184.5Q345.0 187.1 346.7 189.2M325.5 199.0L325.9 203.5M336.6 200.0L339.1 204.4M345.5 192.3L346.6 196.8M324.6 185.0L330.7 188.1M348.1 210.3L352.3 213.5" fill="none" stroke="#4e4e4e" stroke-width="1.7" stroke-linecap="round"/>
<path d="M342.9 209.3L342.8 215.9M319.9 189.1Q320.4 191.6 319.8 194.1M350.5 195.9Q349.0 198.3 346.3 198.9M321.8 199.0L322.3 204.1" fill="none" stroke="#5f5f5f" stroke-width="1.8" stroke-linecap="round"/>
<path d="M340.5 183.9L343.6 189.3M351.0 197.7L346.1 199.0M328.1 185.3L330.6 189.6M338.5 194.6L341.2 197.9M325.9 205.5Q328.8 206.7 331.8 207.5M349.4 195.9L346.3 198.1" fill="none" stroke="#4e4e4e" stroke-width="2.0" stroke-linecap="round"/>
<path d="M339.2 184.0L333.1 186.5M327.2 196.2L325.2 200.1M323.7 191.9Q326.7 192.8 328.3 195.6" fill="none" stroke="#5f5f5f" stroke-width="1.9" stroke-linecap="round"/>
<path d="M339.6 186.4Q340.8 187.8 341.2 189.7M335.6 204.0L335.3 210.5" fill="none" stroke="#5f5f5f" stroke-width="1.6" stroke-linecap="round"/>
<path d="M337.2 212.0Q335.1 211.3 333.0 212.2" fill="none" stroke="#575757" stroke-width="2.2" stroke-linecap="round"/>
<path d="M347.3 195.7Q345.2 197.1 342.8 196.3M348.7 205.9Q347.2 209.1 343.8 209.9" fill="none" stroke="#4e4e4e" stroke-width="1.6" stroke-linecap="round"/>
<path d="M335.6 210.0L336.2 214.6" fill="none" stroke="#5f5f5f" stroke-width="2.2" stroke-linecap="round"/>
<path d="M352.9 182.2L353.3 188.7M349.2 166.6L356.1 167.7M355.2 189.4L351.9 192.9" fill="none" stroke="#555" stroke-width="2.0" stroke-linecap="round"/>
<path d="M364.2 188.4Q362.1 188.2 360.2 189.2" fill="none" stroke="#5e5e5e" stroke-width="1.8" stroke-linecap="round"/>
<path d="M369.8 181.2L371.9 184.7M353.1 165.1Q349.7 166.6 346.2 165.2M363.8 163.7L367.0 168.9" fill="none" stroke="#5e5e5e" stroke-width="2.1" stroke-linecap="round"/>
<path d="M363.9 164.8L371.1 165.2M364.7 181.3Q362.1 182.3 359.4 181.6" fill="none" stroke="#555" stroke-width="1.9" stroke-linecap="round"/>
<path d="M363.0 167.5Q361.4 168.9 359.2 169.2M353.0 170.4L357.9 173.3" fill="none" stroke="#555" stroke-width="2.1" stroke-linecap="round"/>
<path d="M372.8 183.1Q369.0 184.1 365.4 185.6M357.6 189.2L351.0 191.8" fill="none" stroke="#666" stroke-width="2.0" stroke-linecap="round"/>
<path d="M359.0 171.3Q358.8 173.6 358.4 175.9" fill="none" stroke="#5e5e5e" stroke-width="1.9" stroke-linecap="round"/>
<path d="M370.4 171.2Q371.1 174.6 374.0 176.4M362.6 189.3L364.9 194.8" fill="none" stroke="#555" stroke-width="1.8" stroke-linecap="round"/>
<path d="M359.8 165.4L359.6 169.5" fill="none" stroke="#666" stroke-width="1.9" stroke-linecap="round"/>
<path d="M365.0 174.9L361.1 179.0M372.2 176.0L370.9 180.4" fill="none" stroke="#555" stroke-width="1.7" stroke-linecap="round"/>
<path d="M362.9 188.7L367.3 193.2" fill="none" stroke="#5e5e5e" stroke-width="2.2" stroke-linecap="round"/>
<path d="M350.1 165.3Q353.0 166.0 354.8 168.4" fill="none" stroke="#666" stroke-width="2.2" stroke-linecap="round"/>
<path d="M367.3 144.7Q367.5 148.7 370.7 151.2M372.3 168.7L376.6 171.1" fill="none" stroke="#555" stroke-width="1.9" stroke-linecap="round"/>
<path d="M383.8 180.3L376.6 182.1M370.2 155.5L374.4 161.1M387.7 160.2L386.0 166.6" fill="none" stroke="#666" stroke-width="2.0" stroke-linecap="round"/>
<path d="M375.6 148.1L375.2 152.7" fill="none" stroke="#666" stroke-width="2.3" stroke-linecap="round"/>
<path d="M376.9 169.1Q378.6 172.3 381.7 174.2" fill="none" stroke="#5e5e5e" stroke-width="2.3" stroke-linecap="round"/>
<path d="M383.6 145.3Q382.1 149.2 379.5 152.3" fill="none" stroke="#555" stroke-width="2.2" stroke-linecap="round"/>
<path d="M377.9 152.3L372.8 154.3M385.3 158.0Q386.5 161.5 386.6 165.2M377.5 145.2L377.5 151.9" fill="none" stroke="#5e5e5e" stroke-width="2.2" stroke-linecap="round"/>
<path d="M381.5 179.0Q384.5 179.7 387.4 180.7" fill="none" stroke="#5e5e5e" stroke-width="1.9" stroke-linecap="round"/>
<path d="M379.9 158.7Q377.9 159.7 375.7 160.1M377.4 165.6Q376.9 167.8 377.6 169.9" fill="none" stroke="#555" stroke-width="1.8" stroke-linecap="round"/>
<path d="M385.5 168.2L391.6 169.4M385.1 159.3Q383.0 161.3 380.1 161.1" fill="none" stroke="#555" stroke-width="2.1" stroke-linecap="round"/>
<path d="M368.9 169.4L370.0 173.5M385.3 162.1Q386.4 164.5 388.5 165.9" fill="none" stroke="#555" stroke-width="2.0" stroke-linecap="round"/>
<path d="M385.9 167.6Q384.3 170.2 381.4 171.2" fill="none" stroke="#666" stroke-width="1.8" stroke-linecap="round"/>
<path d="M374.3 143.6Q373.9 145.8 372.6 147.7" fill="none" stroke="#666" stroke-width="1.7" stroke-linecap="round"/>
<path d="M388.3 156.0Q390.7 156.7 391.9 158.9M372.5 176.6L375.9 179.0" fill="none" stroke="#5e5e5e" stroke-width="1.7" stroke-linecap="round"/>
<path d="M383.3 163.4L385.4 170.2" fill="none" stroke="#555" stroke-width="2.3" stroke-linecap="round"/>
<path d="M376.2 167.8L372.3 170.7" fill="none" stroke="#666" stroke-width="1.9" stroke-linecap="round"/>
<path d="M381.9 121.8Q383.9 125.2 383.7 129.0" fill="none" stroke="#5e5e5e" stroke-width="2.0" stroke-linecap="round"/>
<path d="M373.0 131.1Q375.4 131.8 377.9 132.4" fill="none" stroke="#5e5e5e" stroke-width="2.1" stroke-linecap="round"/>
<path d="M378.1 121.1Q375.1 124.4 375.8 128.9" fill="none" stroke="#555" stroke-width="1.9" stroke-linecap="round"/>
</g></g>
<g fill="none" stroke="#111" stroke-width="1.8">
<rect x="32" y="2" width="377.5" height="225.5"/>
<line x1="157.6" y1="2" x2="157.6" y2="114.7"/>
<line x1="157.1" y1="114.7" x2="157.1" y2="227.5"/>
<line x1="284.4" y1="2" x2="284.4" y2="114.7"/>
<line x1="285.6" y1="114.7" x2="285.6" y2="227.5"/>
<line x1="32" y1="114.9" x2="409.5" y2="114.9" stroke-width="2"/>
</g>
<g style="font-family:'Liberation Sans',Arial,sans-serif" fill="#000" stroke="#000" stroke-width="0.3">
<text x="37" y="14.8" font-size="12.5" textLength="13.3" lengthAdjust="spacingAndGlyphs" fill="#000">-/-</text>
<text x="162.6" y="14.7" font-size="12.3" textLength="30" lengthAdjust="spacingAndGlyphs" fill="#000">P47A</text>
<text x="193" y="10.6" font-size="7.5" textLength="6.8" lengthAdjust="spacingAndGlyphs" fill="#000">-/-</text>
<text x="289" y="14.7" font-size="12.3" textLength="18.4" lengthAdjust="spacingAndGlyphs" fill="#000">+/+</text>
<text x="36.6" y="128.8" font-size="12.8" textLength="38.4" lengthAdjust="spacingAndGlyphs" fill="#000">A349P</text>
<text x="75.5" y="124.3" font-size="7.5" textLength="8" lengthAdjust="spacingAndGlyphs" fill="#000">-/-</text>
<text x="163.5" y="128.6" font-size="12.6" textLength="38.4" lengthAdjust="spacingAndGlyphs" fill="#000">D791V</text>
<text x="202.8" y="124.3" font-size="7.5" textLength="8.4" lengthAdjust="spacingAndGlyphs" fill="#000">-/-</text>
<text x="289" y="128.6" font-size="12.4" textLength="36.6" lengthAdjust="spacingAndGlyphs" fill="#000">A745T</text>
<text x="326.5" y="124.3" font-size="7.5" textLength="8.8" lengthAdjust="spacingAndGlyphs" fill="#000">-/-</text>
</g>
<g>
<line x1="67.95" y1="396.39" x2="67.95" y2="392.50" stroke="#000" stroke-width="1.3"/>
<line x1="65.35" y1="392.50" x2="70.55" y2="392.50" stroke="#000" stroke-width="1.6"/>
<rect x="64.30" y="397.09" width="7.3" height="9.41" fill="#1f7a1f" stroke="#000" stroke-width="1.5"/>
<line x1="79.70" y1="391.52" x2="79.70" y2="387.63" stroke="#000" stroke-width="1.3"/>
<line x1="77.10" y1="387.63" x2="82.30" y2="387.63" stroke="#000" stroke-width="1.6"/>
<rect x="76.05" y="392.22" width="7.3" height="14.28" fill="#21e021" stroke="#000" stroke-width="1.5"/>
<line x1="91.45" y1="359.82" x2="91.45" y2="354.57" stroke="#000" stroke-width="1.3"/>
<line x1="88.85" y1="354.57" x2="94.05" y2="354.57" stroke="#000" stroke-width="1.6"/>
<rect x="87.80" y="360.52" width="7.3" height="45.98" fill="#f8860f" stroke="#000" stroke-width="1.5"/>
<line x1="103.20" y1="363.71" x2="103.20" y2="356.90" stroke="#000" stroke-width="1.3"/>
<line x1="100.60" y1="356.90" x2="105.80" y2="356.90" stroke="#000" stroke-width="1.6"/>
<rect x="99.55" y="364.41" width="7.3" height="42.09" fill="#fac58f" stroke="#000" stroke-width="1.5"/>
<line x1="114.95" y1="323.06" x2="114.95" y2="318.00" stroke="#000" stroke-width="1.3"/>
<line x1="112.35" y1="318.00" x2="117.55" y2="318.00" stroke="#000" stroke-width="1.6"/>
<rect x="111.30" y="323.76" width="7.3" height="82.74" fill="#f28888" stroke="#000" stroke-width="1.5"/>
<line x1="126.70" y1="305.36" x2="126.70" y2="295.63" stroke="#000" stroke-width="1.3"/>
<line x1="124.10" y1="295.63" x2="129.30" y2="295.63" stroke="#000" stroke-width="1.6"/>
<rect x="123.05" y="306.06" width="7.3" height="100.44" fill="#ee1111" stroke="#000" stroke-width="1.5"/>
<line x1="145.95" y1="398.72" x2="145.95" y2="395.61" stroke="#000" stroke-width="1.3"/>
<line x1="143.35" y1="395.61" x2="148.55" y2="395.61" stroke="#000" stroke-width="1.6"/>
<rect x="142.30" y="399.42" width="7.3" height="7.08" fill="#1f7a1f" stroke="#000" stroke-width="1.5"/>
<path d="M152.8,406.2 C154,402.3 161.4,402.3 162.7,406.2 Z" fill="#000"/>
<line x1="169.45" y1="389.19" x2="169.45" y2="385.69" stroke="#000" stroke-width="1.3"/>
<line x1="166.85" y1="385.69" x2="172.05" y2="385.69" stroke="#000" stroke-width="1.6"/>
<rect x="165.80" y="389.89" width="7.3" height="16.61" fill="#f8860f" stroke="#000" stroke-width="1.5"/>
<line x1="181.20" y1="383.35" x2="181.20" y2="375.38" stroke="#000" stroke-width="1.3"/>
<line x1="178.60" y1="375.38" x2="183.80" y2="375.38" stroke="#000" stroke-width="1.6"/>
<rect x="177.55" y="384.05" width="7.3" height="22.45" fill="#fac58f" stroke="#000" stroke-width="1.5"/>
<line x1="192.95" y1="326.37" x2="192.95" y2="315.67" stroke="#000" stroke-width="1.3"/>
<line x1="190.35" y1="315.67" x2="195.55" y2="315.67" stroke="#000" stroke-width="1.6"/>
<rect x="189.30" y="327.07" width="7.3" height="79.43" fill="#f28888" stroke="#000" stroke-width="1.5"/>
<line x1="204.70" y1="297.39" x2="204.70" y2="282.80" stroke="#000" stroke-width="1.3"/>
<line x1="202.10" y1="282.80" x2="207.30" y2="282.80" stroke="#000" stroke-width="1.6"/>
<rect x="201.05" y="298.09" width="7.3" height="108.41" fill="#ee1111" stroke="#000" stroke-width="1.5"/>
<line x1="223.95" y1="392.69" x2="223.95" y2="389.00" stroke="#000" stroke-width="1.3"/>
<line x1="221.35" y1="389.00" x2="226.55" y2="389.00" stroke="#000" stroke-width="1.6"/>
<rect x="220.30" y="393.39" width="7.3" height="13.11" fill="#1f7a1f" stroke="#000" stroke-width="1.5"/>
<line x1="235.70" y1="393.47" x2="235.70" y2="389.77" stroke="#000" stroke-width="1.3"/>
<line x1="233.10" y1="389.77" x2="238.30" y2="389.77" stroke="#000" stroke-width="1.6"/>
<rect x="232.05" y="394.17" width="7.3" height="12.33" fill="#21e021" stroke="#000" stroke-width="1.5"/>
<line x1="247.45" y1="354.37" x2="247.45" y2="346.79" stroke="#000" stroke-width="1.3"/>
<line x1="244.85" y1="346.79" x2="250.05" y2="346.79" stroke="#000" stroke-width="1.6"/>
<rect x="243.80" y="355.07" width="7.3" height="51.43" fill="#f8860f" stroke="#000" stroke-width="1.5"/>
<line x1="259.20" y1="342.51" x2="259.20" y2="334.53" stroke="#000" stroke-width="1.3"/>
<line x1="256.60" y1="334.53" x2="261.80" y2="334.53" stroke="#000" stroke-width="1.6"/>
<rect x="255.55" y="343.21" width="7.3" height="63.29" fill="#fac58f" stroke="#000" stroke-width="1.5"/>
<line x1="270.95" y1="380.24" x2="270.95" y2="374.41" stroke="#000" stroke-width="1.3"/>
<line x1="268.35" y1="374.41" x2="273.55" y2="374.41" stroke="#000" stroke-width="1.6"/>
<rect x="267.30" y="380.94" width="7.3" height="25.56" fill="#f28888" stroke="#000" stroke-width="1.5"/>
<line x1="282.70" y1="390.94" x2="282.70" y2="384.13" stroke="#000" stroke-width="1.3"/>
<line x1="280.10" y1="384.13" x2="285.30" y2="384.13" stroke="#000" stroke-width="1.6"/>
<rect x="279.05" y="391.64" width="7.3" height="14.86" fill="#ee1111" stroke="#000" stroke-width="1.5"/>
</g>
<g stroke="#000">
<line x1="57.6" y1="250.5" x2="57.6" y2="407.3" stroke-width="2"/>
<line x1="54.5" y1="406.50" x2="57.6" y2="406.50" stroke-width="1.6"/>
<line x1="54.5" y1="367.60" x2="57.6" y2="367.60" stroke-width="1.6"/>
<line x1="54.5" y1="328.70" x2="57.6" y2="328.70" stroke-width="1.6"/>
<line x1="54.5" y1="289.80" x2="57.6" y2="289.80" stroke-width="1.6"/>
<line x1="54.5" y1="250.90" x2="57.6" y2="250.90" stroke-width="1.6"/>
<line x1="56.6" y1="406.4" x2="293" y2="406.4" stroke-width="2"/>
<line x1="136" y1="406" x2="136" y2="420.6" stroke-width="1.6"/>
<line x1="214" y1="406" x2="214" y2="420.6" stroke-width="1.6"/>
</g>
<g stroke="#111" stroke-width="1.2" fill="none">
<polyline points="67.6,384.3 67.6,256.9 120.7,256.9 120.7,282.5"/>
<line x1="97.2" y1="256.9" x2="97.2" y2="334.9"/>
<line x1="90.2" y1="334.9" x2="103.8" y2="334.9" stroke-width="1.5"/>
<line x1="113.8" y1="282.5" x2="127.7" y2="282.5" stroke-width="1.5"/>
<polyline points="146.6,384.9 146.6,257.3 200.1,257.3 200.1,272.3"/>
<line x1="175" y1="257.3" x2="175" y2="359.4"/>
<line x1="167.7" y1="359.4" x2="181.6" y2="359.4" stroke-width="1.5"/>
<line x1="192.3" y1="272.3" x2="206.1" y2="272.3" stroke-width="1.5"/>
<polyline points="224.2,384.4 224.2,256.9 277.3,256.9 277.3,359.4"/>
<line x1="252.2" y1="256.9" x2="252.2" y2="320.3"/>
<line x1="245.1" y1="320.3" x2="259.5" y2="320.3" stroke-width="1.5"/>
<line x1="269.9" y1="359.4" x2="283.7" y2="359.4" stroke-width="1.5"/>
</g>
<g style="font-family:'Liberation Sans',Arial,sans-serif" fill="#000">
<text x="97" y="346.09999999999997" font-size="10" text-anchor="middle" font-weight="bold" textLength="13.5" lengthAdjust="spacingAndGlyphs" fill="#000">***</text>
<text x="120.7" y="293.7" font-size="10" text-anchor="middle" font-weight="bold" textLength="13.5" lengthAdjust="spacingAndGlyphs" fill="#000">***</text>
<text x="199.2" y="283.5" font-size="10" text-anchor="middle" font-weight="bold" textLength="13.5" lengthAdjust="spacingAndGlyphs" fill="#000">***</text>
<text x="252.3" y="331.5" font-size="10" text-anchor="middle" font-weight="bold" textLength="13.5" lengthAdjust="spacingAndGlyphs" fill="#000">***</text>
<text x="175.4" y="368.0" font-size="11" text-anchor="middle" textLength="18" lengthAdjust="spacingAndGlyphs" fill="#111" stroke="#111" stroke-width="0.2">n.s.</text>
<text x="278.3" y="368.0" font-size="11" text-anchor="middle" textLength="18" lengthAdjust="spacingAndGlyphs" fill="#111" stroke="#111" stroke-width="0.2">n.s.</text>
<text x="51.5" y="410.1" font-size="10.4" text-anchor="end" font-weight="bold" fill="#000">0</text>
<text x="51.5" y="371.20000000000005" font-size="10.4" text-anchor="end" font-weight="bold" fill="#000">2</text>
<text x="51.5" y="332.3" font-size="10.4" text-anchor="end" font-weight="bold" fill="#000">4</text>
<text x="51.5" y="293.40000000000003" font-size="10.4" text-anchor="end" font-weight="bold" fill="#000">6</text>
<text x="51.5" y="254.5" font-size="10.4" text-anchor="end" font-weight="bold" fill="#000">8</text>
<text transform="translate(33.8,413.8) rotate(-90)" font-size="11" font-weight="bold" textLength="167" lengthAdjust="spacingAndGlyphs">Number of abberations per spread</text>
<text x="95" y="419.6" font-size="9" text-anchor="middle" font-weight="bold" textLength="52.4" lengthAdjust="spacingAndGlyphs" fill="#000">Breaks/gaps</text>
<text x="177" y="419.8" font-size="9" text-anchor="middle" font-weight="bold" textLength="25.8" lengthAdjust="spacingAndGlyphs" fill="#000">Radial</text>
<text x="177" y="431.2" font-size="9" text-anchor="middle" font-weight="bold" textLength="46.2" lengthAdjust="spacingAndGlyphs" fill="#000">formations</text>
<text x="256.7" y="418.8" font-size="9" text-anchor="middle" font-weight="bold" textLength="35.5" lengthAdjust="spacingAndGlyphs" fill="#000">Acentric</text>
<text x="256.5" y="431.0" font-size="9" text-anchor="middle" font-weight="bold" textLength="42.1" lengthAdjust="spacingAndGlyphs" fill="#000">fragments</text>
</g>
<g style="font-family:'Liberation Sans',Arial,sans-serif" stroke="#111" stroke-width="0.25">
<rect x="306.3" y="256.0" width="10.6" height="8.2" fill="#1f7a1f" stroke="#000" stroke-width="1.5"/>
<text x="323.2" y="264.2" font-size="10.6" fill="#111">+/+</text>
<rect x="306.3" y="273.9" width="10.6" height="8.2" fill="#21e021" stroke="#000" stroke-width="1.5"/>
<text x="323.2" y="282.09999999999997" font-size="10.6" fill="#111">A745T</text>
<text x="355.1" y="278.0" font-size="8.6" fill="#111" textLength="9.6" lengthAdjust="spacingAndGlyphs">-/-</text>
<rect x="306.3" y="291.9" width="10.6" height="8.2" fill="#f8860f" stroke="#000" stroke-width="1.5"/>
<text x="323.2" y="300.09999999999997" font-size="10.6" fill="#111">P47A</text>
<text x="349.5" y="296.0" font-size="8.6" fill="#111" textLength="9.6" lengthAdjust="spacingAndGlyphs">-/-</text>
<rect x="306.3" y="309.8" width="10.6" height="8.2" fill="#fac58f" stroke="#000" stroke-width="1.5"/>
<text x="323.2" y="318.0" font-size="10.6" fill="#111">D791V</text>
<text x="355.9" y="313.9" font-size="8.6" fill="#111" textLength="9.6" lengthAdjust="spacingAndGlyphs">-/-</text>
<rect x="306.3" y="326.9" width="10.6" height="8.2" fill="#f28888" stroke="#000" stroke-width="1.5"/>
<text x="323.2" y="335.09999999999997" font-size="10.6" fill="#111">A349P</text>
<text x="354.8" y="331.0" font-size="8.6" fill="#111" textLength="9.6" lengthAdjust="spacingAndGlyphs">-/-</text>
<rect x="306.3" y="344.2" width="10.6" height="8.2" fill="#ee1111" stroke="#000" stroke-width="1.5"/>
<text x="323.2" y="352.4" font-size="10.6" fill="#111">-/-</text>
</g>
<g stroke="#333" fill="none">
<rect x="46.3" y="472.7" width="164.2" height="140.2" stroke-width="1.1"/>
<line x1="42.70" y1="612.90" x2="46.30" y2="612.90" stroke-width="1.3"/>
<line x1="44.30" y1="601.30" x2="46.30" y2="601.30" stroke-width="1"/>
<line x1="44.30" y1="589.70" x2="46.30" y2="589.70" stroke-width="1"/>
<line x1="42.70" y1="578.10" x2="46.30" y2="578.10" stroke-width="1.3"/>
<line x1="44.30" y1="566.50" x2="46.30" y2="566.50" stroke-width="1"/>
<line x1="44.30" y1="554.90" x2="46.30" y2="554.90" stroke-width="1"/>
<line x1="42.70" y1="543.30" x2="46.30" y2="543.30" stroke-width="1.3"/>
<line x1="44.30" y1="531.70" x2="46.30" y2="531.70" stroke-width="1"/>
<line x1="44.30" y1="520.10" x2="46.30" y2="520.10" stroke-width="1"/>
<line x1="42.70" y1="508.50" x2="46.30" y2="508.50" stroke-width="1.3"/>
<line x1="44.30" y1="496.90" x2="46.30" y2="496.90" stroke-width="1"/>
<line x1="44.30" y1="485.30" x2="46.30" y2="485.30" stroke-width="1"/>
<line x1="42.70" y1="473.70" x2="46.30" y2="473.70" stroke-width="1.3"/>
<line x1="46.30" y1="612.90" x2="46.30" y2="616.30" stroke-width="1.3"/>
<line x1="58.80" y1="612.90" x2="58.80" y2="614.90" stroke-width="1"/>
<line x1="71.30" y1="612.90" x2="71.30" y2="614.90" stroke-width="1"/>
<line x1="83.80" y1="612.90" x2="83.80" y2="614.90" stroke-width="1"/>
<line x1="96.30" y1="612.90" x2="96.30" y2="616.30" stroke-width="1.3"/>
<line x1="108.80" y1="612.90" x2="108.80" y2="614.90" stroke-width="1"/>
<line x1="121.30" y1="612.90" x2="121.30" y2="614.90" stroke-width="1"/>
<line x1="133.80" y1="612.90" x2="133.80" y2="614.90" stroke-width="1"/>
<line x1="146.30" y1="612.90" x2="146.30" y2="616.30" stroke-width="1.3"/>
<line x1="158.80" y1="612.90" x2="158.80" y2="614.90" stroke-width="1"/>
<line x1="171.30" y1="612.90" x2="171.30" y2="614.90" stroke-width="1"/>
<line x1="183.80" y1="612.90" x2="183.80" y2="614.90" stroke-width="1"/>
<line x1="196.30" y1="612.90" x2="196.30" y2="616.30" stroke-width="1.3"/>
<line x1="208.80" y1="612.90" x2="208.80" y2="614.90" stroke-width="1"/>
</g>
<g style="font-family:'Liberation Sans',Arial,sans-serif" fill="#222" font-size="7.6">
<text x="40.4" y="615.6" font-size="7.6" text-anchor="end" fill="#222">0</text>
<text x="40.4" y="580.8000000000001" font-size="7.6" text-anchor="end" fill="#222">300</text>
<text x="40.4" y="546.0" font-size="7.6" text-anchor="end" fill="#222">600</text>
<text x="40.4" y="511.2" font-size="7.6" text-anchor="end" fill="#222">900</text>
<text x="40.4" y="476.4" font-size="7.6" text-anchor="end" fill="#222">1.2K</text>
<text x="46.3" y="623.6999999999999" font-size="7.6" text-anchor="middle" fill="#222">0</text>
<text x="96.3" y="623.6999999999999" font-size="7.6" text-anchor="middle" fill="#222">200</text>
<text x="146.3" y="623.6999999999999" font-size="7.6" text-anchor="middle" fill="#222">400</text>
<text x="196.3" y="623.6999999999999" font-size="7.6" text-anchor="middle" fill="#222">600</text>
</g>
<g>
<polyline points="89.80,612.87 90.30,612.82 90.80,612.70 91.30,612.43 91.80,611.87 92.30,610.78 92.80,608.82 93.30,605.52 93.80,600.34 94.30,592.83 94.80,582.77 95.30,570.40 95.80,556.59 96.30,542.78 96.80,530.81 97.30,522.45 97.80,518.80 98.30,520.71 98.80,527.71 99.30,538.23 99.80,551.04 100.30,564.23 100.80,575.66 101.30,584.23 101.80,589.93 102.30,593.35 102.80,595.22 103.30,596.19 103.80,596.69 104.30,596.97 104.80,597.19 105.30,597.95 105.80,598.72 106.30,599.50 106.80,600.30 107.30,600.76 107.80,601.22 108.30,601.65 108.80,602.07 109.30,602.46 109.80,602.61 110.30,602.74 110.80,602.86 111.30,602.98 111.80,603.10 112.30,603.24 112.80,603.38 113.30,603.53 113.80,603.70 114.30,603.86 114.80,604.02 115.30,604.16 115.80,604.22 116.30,604.26 116.80,604.28 117.30,604.29 117.80,604.30 118.30,604.31 118.80,604.33 119.30,604.37 119.80,604.45 120.30,604.55 120.80,604.68 121.30,604.84 121.80,605.02 122.30,605.20 122.80,605.38 123.30,605.55 123.80,605.69 124.30,605.80 124.80,605.88 125.30,605.94 125.80,605.97 126.30,605.98 126.80,605.99 127.30,606.00 127.80,606.02 128.30,606.05 128.80,606.10 129.30,606.16 129.80,606.23 130.30,606.31 130.80,606.38 131.30,606.45 131.80,606.51 132.30,606.56 132.80,606.60 133.30,606.63 133.80,606.66 134.30,606.70 134.80,606.76 135.30,606.84 135.80,606.90 136.30,606.93 136.80,606.98 137.30,607.05 137.80,607.11 138.30,607.17 138.80,607.20 139.30,607.21 139.80,607.17 140.30,607.05 140.80,606.87 141.30,606.63 141.80,606.34 142.30,606.00 142.80,605.60 143.30,605.15 143.80,604.65 144.30,604.07 144.80,603.41 145.30,602.67 145.80,601.83 146.30,600.89 146.80,599.94 147.30,598.91 147.80,597.84 148.30,596.77 148.80,595.74 149.30,594.84 149.80,594.12 150.30,593.65 150.80,593.50 151.30,593.69 151.80,594.23 152.30,595.23 152.80,596.77 153.30,598.69 153.80,600.82 154.30,602.99 154.80,605.05 155.30,606.91 155.80,608.49 156.30,609.77 156.80,610.76 157.30,611.49 157.80,612.00 158.30,612.35 158.80,612.57 159.30,612.71 159.80,612.80 160.30,612.84" fill="none" stroke="#c7e6a6" stroke-width="1.7" stroke-linejoin="round"/>
<polyline points="92.80,612.86 93.30,612.76 93.80,612.40 94.30,611.36 94.80,608.74 95.30,603.07 95.80,592.56 96.30,576.00 96.80,554.24 97.30,531.11 97.80,512.73 98.30,504.74 98.80,507.63 99.30,518.40 99.80,534.42 100.30,552.36 100.80,568.55 101.30,580.75 101.80,588.64 102.30,593.12 102.80,595.39 103.30,596.44 103.80,596.92 104.30,597.17 104.80,597.36 105.30,598.08 105.80,598.80 106.30,599.53 106.80,600.25 107.30,600.65 107.80,601.03 108.30,601.41 108.80,601.77 109.30,602.13 109.80,602.28 110.30,602.43 110.80,602.60 111.30,602.79 111.80,602.99 112.30,603.21 112.80,603.43 113.30,603.66 113.80,603.89 114.30,604.09 114.80,604.27 115.30,604.42 115.80,604.46 116.30,604.47 116.80,604.46 117.30,604.44 117.80,604.41 118.30,604.39 118.80,604.38 119.30,604.41 119.80,604.46 120.30,604.54 120.80,604.65 121.30,604.78 121.80,604.92 122.30,605.06 122.80,605.20 123.30,605.33 123.80,605.44 124.30,605.53 124.80,605.61 125.30,605.69 125.80,605.76 126.30,605.83 126.80,605.92 127.30,606.01 127.80,606.12 128.30,606.24 128.80,606.35 129.30,606.46 129.80,606.55 130.30,606.63 130.80,606.68 131.30,606.70 131.80,606.70 132.30,606.68 132.80,606.65 133.30,606.62 133.80,606.60 134.30,606.60 134.80,606.62 135.30,606.67 135.80,606.71 136.30,606.72 136.80,606.73 137.30,606.75 137.80,606.74 138.30,606.69 138.80,606.59 139.30,606.40 139.80,606.11 140.30,605.68 140.80,605.09 141.30,604.36 141.80,603.46 142.30,602.39 142.80,601.15 143.30,599.73 143.80,598.13 144.30,596.39 144.80,594.52 145.30,592.58 145.80,590.62 146.30,588.73 146.80,587.06 147.30,585.63 147.80,584.56 148.30,583.93 148.80,583.80 149.30,584.20 149.80,585.49 150.30,587.90 150.80,591.13 151.30,594.81 151.80,598.56 152.30,602.04 152.80,605.06 153.30,607.49 153.80,609.34 154.30,610.66 154.80,611.55 155.30,612.12 155.80,612.47 156.30,612.67 156.80,612.78 157.30,612.84" fill="none" stroke="#f7b98c" stroke-width="1.7" stroke-linejoin="round"/>
<polyline points="93.30,612.88 93.80,612.82 94.30,612.55 94.80,611.63 95.30,609.00 95.80,602.72 96.30,590.25 96.80,569.90 97.30,543.29 97.80,516.64 98.30,498.85 98.80,495.51 99.30,502.73 99.80,517.96 100.30,537.68 100.80,557.19 101.30,573.02 101.80,584.00 102.30,590.66 102.80,594.24 103.30,596.00 103.80,596.81 104.30,597.19 104.80,597.40 105.30,598.10 105.80,598.81 106.30,599.52 106.80,600.26 107.30,600.69 107.80,601.14 108.30,601.60 108.80,602.05 109.30,602.50 109.80,602.71 110.30,602.90 110.80,603.05 111.30,603.17 111.80,603.26 112.30,603.33 112.80,603.38 113.30,603.44 113.80,603.50 114.30,603.57 114.80,603.67 115.30,603.80 115.80,603.88 116.30,603.99 116.80,604.10 117.30,604.23 117.80,604.36 118.30,604.48 118.80,604.59 119.30,604.69 119.80,604.77 120.30,604.85 120.80,604.92 121.30,605.00 121.80,605.08 122.30,605.18 122.80,605.29 123.30,605.42 123.80,605.55 124.30,605.69 124.80,605.81 125.30,605.92 125.80,606.01 126.30,606.06 126.80,606.09 127.30,606.10 127.80,606.08 128.30,606.05 128.80,606.03 129.30,606.00 129.80,606.00 130.30,606.03 130.80,606.09 131.30,606.18 131.80,606.30 132.30,606.44 132.80,606.59 133.30,606.74 133.80,606.88 134.30,607.01 134.80,607.11 135.30,607.19 135.80,607.20 136.30,607.15 136.80,607.07 137.30,606.98 137.80,606.87 138.30,606.74 138.80,606.58 139.30,606.36 139.80,606.08 140.30,605.67 140.80,605.10 141.30,604.38 141.80,603.47 142.30,602.35 142.80,601.00 143.30,599.43 143.80,597.64 144.30,595.65 144.80,593.51 145.30,591.29 145.80,589.05 146.30,586.88 146.80,584.96 147.30,583.31 147.80,582.02 148.30,581.18 148.80,580.85 149.30,581.05 149.80,581.88 150.30,584.05 150.80,587.41 151.30,591.52 151.80,595.88 152.30,600.04 152.80,603.69 153.30,606.64 153.80,608.86 154.30,610.43 154.80,611.46 155.30,612.10 155.80,612.47 156.30,612.68 156.80,612.79 157.30,612.85" fill="none" stroke="#ee8a2a" stroke-width="1.7" stroke-linejoin="round"/>
<polyline points="93.30,612.88 93.80,612.82 94.30,612.56 94.80,611.68 95.30,609.16 95.80,603.14 96.30,591.16 96.80,571.64 97.30,546.10 97.80,520.53 98.30,503.43 98.80,500.16 99.30,506.98 99.80,521.44 100.30,540.21 100.80,558.79 101.30,573.86 101.80,584.31 102.30,590.64 102.80,594.08 103.30,595.80 103.80,596.65 104.30,597.12 104.80,597.44 105.30,598.24 105.80,599.02 106.30,599.79 106.80,600.52 107.30,600.92 107.80,601.29 108.30,601.65 108.80,602.00 109.30,602.35 109.80,602.48 110.30,602.63 110.80,602.79 111.30,602.95 111.80,603.12 112.30,603.29 112.80,603.46 113.30,603.61 113.80,603.74 114.30,603.85 114.80,603.94 115.30,604.02 115.80,604.01 116.30,604.01 116.80,604.02 117.30,604.05 117.80,604.11 118.30,604.21 118.80,604.33 119.30,604.48 119.80,604.65 120.30,604.84 120.80,605.02 121.30,605.19 121.80,605.33 122.30,605.45 122.80,605.55 123.30,605.61 123.80,605.65 124.30,605.68 124.80,605.70 125.30,605.72 125.80,605.75 126.30,605.79 126.80,605.85 127.30,605.92 127.80,606.00 128.30,606.08 128.80,606.16 129.30,606.22 129.80,606.27 130.30,606.30 130.80,606.33 131.30,606.35 131.80,606.37 132.30,606.40 132.80,606.44 133.30,606.51 133.80,606.61 134.30,606.73 134.80,606.87 135.30,607.03 135.80,607.13 136.30,607.18 136.80,607.19 137.30,607.16 137.80,607.07 138.30,606.91 138.80,606.66 139.30,606.32 139.80,605.87 140.30,605.29 140.80,604.55 141.30,603.67 141.80,602.64 142.30,601.45 142.80,600.09 143.30,598.55 143.80,596.85 144.30,595.00 144.80,593.05 145.30,591.05 145.80,589.06 146.30,587.19 146.80,585.59 147.30,584.29 147.80,583.40 148.30,582.99 148.80,583.12 149.30,583.88 149.80,585.80 150.30,588.74 150.80,592.34 151.30,596.20 151.80,599.96 152.30,603.32 152.80,606.13 153.30,608.33 153.80,609.95 154.30,611.08 154.80,611.83 155.30,612.29 155.80,612.57 156.30,612.72 156.80,612.81 157.30,612.85" fill="none" stroke="#e06a50" stroke-width="1.7" stroke-linejoin="round"/>
<polyline points="92.30,612.88 92.80,612.83 93.30,612.65 93.80,612.07 94.30,610.52 94.80,606.90 95.30,599.63 95.80,587.19 96.30,569.25 96.80,547.94 97.30,528.11 97.80,515.65 98.30,513.94 98.80,520.12 99.30,531.42 99.80,545.66 100.30,560.64 100.80,573.84 101.30,583.72 101.80,590.15 102.30,593.88 102.80,595.84 103.30,596.80 103.80,597.26 104.30,597.51 104.80,597.67 105.30,598.36 105.80,599.05 106.30,599.75 106.80,600.46 107.30,600.84 107.80,601.21 108.30,601.58 108.80,601.93 109.30,602.26 109.80,602.35 110.30,602.44 110.80,602.52 111.30,602.60 111.80,602.70 112.30,602.82 112.80,602.97 113.30,603.15 113.80,603.36 114.30,603.60 114.80,603.85 115.30,604.11 115.80,604.29 116.30,604.46 116.80,604.60 117.30,604.71 117.80,604.80 118.30,604.85 118.80,604.88 119.30,604.90 119.80,604.91 120.30,604.92 120.80,604.94 121.30,604.98 121.80,605.03 122.30,605.10 122.80,605.18 123.30,605.26 123.80,605.35 124.30,605.42 124.80,605.49 125.30,605.54 125.80,605.58 126.30,605.62 126.80,605.66 127.30,605.71 127.80,605.77 128.30,605.86 128.80,605.97 129.30,606.10 129.80,606.25 130.30,606.42 130.80,606.58 131.30,606.74 131.80,606.89 132.30,607.01 132.80,607.09 133.30,607.15 133.80,607.17 134.30,607.16 134.80,607.14 135.30,607.12 135.80,607.05 136.30,606.94 136.80,606.86 137.30,606.79 137.80,606.75 138.30,606.73 138.80,606.71 139.30,606.70 139.80,606.67 140.30,606.60 140.80,606.48 141.30,606.32 141.80,606.12 142.30,605.86 142.80,605.55 143.30,605.18 143.80,604.74 144.30,604.23 144.80,603.63 145.30,602.94 145.80,602.14 146.30,601.25 146.80,600.32 147.30,599.31 147.80,598.25 148.30,597.15 148.80,596.09 149.30,595.12 149.80,594.32 150.30,593.76 150.80,593.51 151.30,593.62 151.80,594.09 152.30,595.06 152.80,596.59 153.30,598.53 153.80,600.69 154.30,602.90 154.80,604.99 155.30,606.87 155.80,608.47 156.30,609.76 156.80,610.75 157.30,611.49 157.80,612.00 158.30,612.35 158.80,612.57 159.30,612.71 159.80,612.80 160.30,612.84" fill="none" stroke="#7cc242" stroke-width="1.7" stroke-linejoin="round"/>
<polyline points="93.30,612.87 93.80,612.77 94.30,612.43 94.80,611.35 95.30,608.54 95.80,602.30 96.30,590.68 96.80,572.70 97.30,550.11 97.80,528.09 98.30,513.48 98.80,510.33 99.30,515.62 99.80,527.66 100.30,543.93 100.80,560.58 101.30,574.51 101.80,584.50 102.30,590.78 102.80,594.30 103.30,596.07 103.80,596.90 104.30,597.29 104.80,597.50 105.30,598.20 105.80,598.89 106.30,599.59 106.80,600.29 107.30,600.67 107.80,601.05 108.30,601.41 108.80,601.77 109.30,602.11 109.80,602.23 110.30,602.35 110.80,602.48 111.30,602.62 111.80,602.78 112.30,602.96 112.80,603.17 113.30,603.40 113.80,603.65 114.30,603.90 114.80,604.14 115.30,604.38 115.80,604.51 116.30,604.61 116.80,604.68 117.30,604.71 117.80,604.72 118.30,604.71 118.80,604.69 119.30,604.67 119.80,604.67 120.30,604.68 120.80,604.72 121.30,604.78 121.80,604.86 122.30,604.96 122.80,605.07 123.30,605.19 123.80,605.30 124.30,605.40 124.80,605.49 125.30,605.57 125.80,605.64 126.30,605.71 126.80,605.78 127.30,605.87 127.80,605.97 128.30,606.08 128.80,606.22 129.30,606.35 129.80,606.49 130.30,606.62 130.80,606.74 131.30,606.84 131.80,606.91 132.30,606.95 132.80,606.96 133.30,606.95 133.80,606.92 134.30,606.88 134.80,606.85 135.30,606.83 135.80,606.79 136.30,606.73 136.80,606.70 137.30,606.70 137.80,606.72 138.30,606.76 138.80,606.80 139.30,606.83 139.80,606.84 140.30,606.81 140.80,606.73 141.30,606.61 141.80,606.45 142.30,606.26 142.80,606.03 143.30,605.75 143.80,605.42 144.30,605.02 144.80,604.54 145.30,603.97 145.80,603.29 146.30,602.49 146.80,601.64 147.30,600.66 147.80,599.58 148.30,598.43 148.80,597.24 149.30,596.09 149.80,595.03 150.30,594.16 150.80,593.53 151.30,593.23 151.80,593.29 152.30,593.71 152.80,594.50 153.30,595.89 153.80,597.77 154.30,599.96 154.80,602.26 155.30,604.49 155.80,606.52 156.30,608.25 156.80,609.64 157.30,610.71 157.80,611.49 158.30,612.03 158.80,612.38 159.30,612.60 159.80,612.73 160.30,612.81" fill="none" stroke="#3d8a1c" stroke-width="1.7" stroke-linejoin="round"/>
</g>
<text x="129.9" y="467.7" font-size="11.3" text-anchor="middle" textLength="51" lengthAdjust="spacingAndGlyphs" fill="#111" style="font-family:'Liberation Sans',Arial,sans-serif">Untreated</text>
<g stroke="#333" fill="none">
<rect x="238.4" y="474.8" width="170.70000000000002" height="138.7" stroke-width="1.1"/>
<line x1="234.80" y1="613.50" x2="238.40" y2="613.50" stroke-width="1.3"/>
<line x1="236.40" y1="607.55" x2="238.40" y2="607.55" stroke-width="1"/>
<line x1="236.40" y1="601.60" x2="238.40" y2="601.60" stroke-width="1"/>
<line x1="236.40" y1="595.65" x2="238.40" y2="595.65" stroke-width="1"/>
<line x1="234.80" y1="589.70" x2="238.40" y2="589.70" stroke-width="1.3"/>
<line x1="236.40" y1="583.75" x2="238.40" y2="583.75" stroke-width="1"/>
<line x1="236.40" y1="577.80" x2="238.40" y2="577.80" stroke-width="1"/>
<line x1="236.40" y1="571.85" x2="238.40" y2="571.85" stroke-width="1"/>
<line x1="234.80" y1="565.90" x2="238.40" y2="565.90" stroke-width="1.3"/>
<line x1="236.40" y1="559.95" x2="238.40" y2="559.95" stroke-width="1"/>
<line x1="236.40" y1="554.00" x2="238.40" y2="554.00" stroke-width="1"/>
<line x1="236.40" y1="548.05" x2="238.40" y2="548.05" stroke-width="1"/>
<line x1="234.80" y1="542.10" x2="238.40" y2="542.10" stroke-width="1.3"/>
<line x1="236.40" y1="536.15" x2="238.40" y2="536.15" stroke-width="1"/>
<line x1="236.40" y1="530.20" x2="238.40" y2="530.20" stroke-width="1"/>
<line x1="236.40" y1="524.25" x2="238.40" y2="524.25" stroke-width="1"/>
<line x1="234.80" y1="518.30" x2="238.40" y2="518.30" stroke-width="1.3"/>
<line x1="236.40" y1="512.35" x2="238.40" y2="512.35" stroke-width="1"/>
<line x1="236.40" y1="506.40" x2="238.40" y2="506.40" stroke-width="1"/>
<line x1="236.40" y1="500.45" x2="238.40" y2="500.45" stroke-width="1"/>
<line x1="234.80" y1="494.50" x2="238.40" y2="494.50" stroke-width="1.3"/>
<line x1="236.40" y1="488.55" x2="238.40" y2="488.55" stroke-width="1"/>
<line x1="236.40" y1="482.60" x2="238.40" y2="482.60" stroke-width="1"/>
<line x1="236.40" y1="476.65" x2="238.40" y2="476.65" stroke-width="1"/>
<line x1="238.40" y1="613.50" x2="238.40" y2="616.90" stroke-width="1.3"/>
<line x1="251.53" y1="613.50" x2="251.53" y2="615.50" stroke-width="1"/>
<line x1="264.65" y1="613.50" x2="264.65" y2="615.50" stroke-width="1"/>
<line x1="277.77" y1="613.50" x2="277.77" y2="615.50" stroke-width="1"/>
<line x1="290.90" y1="613.50" x2="290.90" y2="616.90" stroke-width="1.3"/>
<line x1="304.02" y1="613.50" x2="304.02" y2="615.50" stroke-width="1"/>
<line x1="317.15" y1="613.50" x2="317.15" y2="615.50" stroke-width="1"/>
<line x1="330.27" y1="613.50" x2="330.27" y2="615.50" stroke-width="1"/>
<line x1="343.40" y1="613.50" x2="343.40" y2="616.90" stroke-width="1.3"/>
<line x1="356.52" y1="613.50" x2="356.52" y2="615.50" stroke-width="1"/>
<line x1="369.65" y1="613.50" x2="369.65" y2="615.50" stroke-width="1"/>
<line x1="382.77" y1="613.50" x2="382.77" y2="615.50" stroke-width="1"/>
<line x1="395.90" y1="613.50" x2="395.90" y2="616.90" stroke-width="1.3"/>
<line x1="409.02" y1="613.50" x2="409.02" y2="615.50" stroke-width="1"/>
</g>
<g style="font-family:'Liberation Sans',Arial,sans-serif" fill="#222" font-size="7.6">
<text x="232.5" y="616.2" font-size="7.6" text-anchor="end" fill="#222">0</text>
<text x="232.5" y="592.4000000000001" font-size="7.6" text-anchor="end" fill="#222">100</text>
<text x="232.5" y="568.6" font-size="7.6" text-anchor="end" fill="#222">200</text>
<text x="232.5" y="544.8000000000001" font-size="7.6" text-anchor="end" fill="#222">300</text>
<text x="232.5" y="521.0" font-size="7.6" text-anchor="end" fill="#222">400</text>
<text x="232.5" y="497.2" font-size="7.6" text-anchor="end" fill="#222">500</text>
<text x="238.4" y="624.3" font-size="7.6" text-anchor="middle" fill="#222">0</text>
<text x="290.9" y="624.3" font-size="7.6" text-anchor="middle" fill="#222">200</text>
<text x="343.4" y="624.3" font-size="7.6" text-anchor="middle" fill="#222">400</text>
<text x="395.9" y="624.3" font-size="7.6" text-anchor="middle" fill="#222">600</text>
</g>
<polyline points="281.45,613.35 281.98,613.21 282.50,612.97 283.02,612.56 283.55,611.87 284.07,610.79 284.60,609.12 285.12,606.65 285.65,603.14 286.18,598.35 286.70,592.07 287.23,584.16 287.75,574.63 288.27,563.68 288.80,551.72 289.32,539.37 289.85,527.41 290.38,516.73 290.90,508.17 291.43,502.43 291.95,499.92 292.48,500.70 293.00,504.47 293.52,510.65 294.05,518.55 294.57,527.53 295.10,537.09 295.62,546.76 296.15,556.08 296.68,564.59 297.20,571.94 297.73,577.94 298.25,582.58 298.77,585.97 299.30,588.32 299.82,589.85 300.35,590.81 300.88,591.40 301.40,591.77 301.93,592.04 302.45,592.27 302.98,592.50 303.50,592.71 304.02,592.88 304.55,592.98 305.07,592.97 305.60,592.82 306.12,592.54 306.65,592.12 307.18,591.62 307.70,591.06 308.23,590.53 308.75,590.08 309.27,589.76 309.80,589.62 310.32,589.69 310.85,589.96 311.38,590.40 311.90,590.96 312.43,591.59 312.95,592.22 313.48,592.78 314.00,593.21 314.52,593.50 315.05,593.61 315.57,593.58 316.10,593.42 316.62,593.18 317.15,592.91 317.68,592.65 318.20,592.45 318.73,592.32 319.25,592.26 319.77,592.27 320.30,592.30 320.82,592.34 321.35,592.32 321.88,592.24 322.40,592.06 322.93,591.79 323.45,591.45 323.98,591.08 324.50,590.72 325.02,590.44 325.55,590.27 326.07,590.26 326.60,590.43 327.12,590.77 327.65,591.26 328.18,591.85 328.70,592.48 329.23,593.07 329.75,593.56 330.27,593.89 330.80,594.02 331.32,593.93 331.85,593.62 332.38,593.12 332.90,592.47 333.43,591.74 333.95,590.97 334.48,590.22 335.00,589.51 335.52,588.85 336.05,588.26 336.57,587.70 337.10,587.15 337.62,586.57 338.15,585.94 338.68,585.23 339.20,584.45 339.73,583.62 340.25,582.80 340.77,582.05 341.30,581.44 341.83,581.09 342.35,581.06 342.88,581.44 343.40,582.29 343.93,583.62 344.45,585.39 344.98,587.54 345.50,590.11 346.02,592.93 346.55,595.81 347.08,598.60 347.60,601.18 348.12,603.51 348.65,605.55 349.18,607.31 349.70,608.78 350.23,609.98 350.75,610.93 351.27,611.68 351.80,612.23 352.33,612.64 352.85,612.93 353.38,613.13 353.90,613.27 354.43,613.36" fill="none" stroke="#cfe8b8" stroke-width="1.7" stroke-linejoin="round"/>
<polyline points="285.65,613.38 286.18,613.17 286.70,612.70 287.23,611.70 287.75,609.74 288.27,606.29 288.80,600.73 289.32,592.66 289.85,582.14 290.38,570.00 290.90,557.84 291.43,547.81 291.95,541.90 292.48,541.32 293.00,546.00 293.52,554.62 294.05,565.11 294.57,575.42 295.10,584.14 295.62,590.64 296.15,594.99 296.68,597.60 297.20,598.99 297.73,599.62 298.25,599.83 298.77,599.82 299.30,599.74 299.82,599.66 300.35,599.62 300.88,599.64 301.40,599.73 301.93,599.88 302.45,600.06 302.98,600.23 303.50,600.37 304.02,600.42 304.55,600.37 305.07,600.19 305.60,599.88 306.12,599.47 306.65,598.99 307.18,598.49 307.70,598.02 308.23,597.65 308.75,597.40 309.27,597.32 309.80,597.40 310.32,597.65 310.85,598.03 311.38,598.49 311.90,598.99 312.43,599.46 312.95,599.87 313.48,600.17 314.00,600.35 314.52,600.40 315.05,599.92 315.57,599.37 316.10,598.78 316.62,598.19 317.15,597.62 317.68,597.11 318.20,596.66 318.73,596.25 319.25,595.87 319.77,595.50 320.30,595.09 320.82,594.61 321.35,594.06 321.88,593.42 322.40,592.70 322.93,591.93 323.45,591.15 323.98,590.40 324.50,589.74 325.02,589.20 325.55,588.81 326.07,588.57 326.60,588.49 327.12,588.53 327.65,588.64 328.18,588.77 328.70,588.86 329.23,588.87 329.75,588.73 330.27,588.45 330.80,588.00 331.32,587.41 331.85,586.70 332.38,585.92 332.90,585.10 333.43,584.29 333.95,583.52 334.48,582.79 335.00,582.08 335.52,581.38 336.05,580.64 336.57,579.78 337.10,578.76 337.62,577.51 338.15,575.98 338.68,574.14 339.20,571.96 339.73,569.47 340.25,566.68 340.77,563.67 341.30,560.50 341.83,557.26 342.35,554.08 342.88,551.06 343.40,548.34 343.93,546.07 344.45,544.40 344.98,543.51 345.50,543.56 346.02,544.69 346.55,547.00 347.08,550.78 347.60,556.13 348.12,562.82 348.65,570.08 349.18,577.39 349.70,584.32 350.23,590.59 350.75,596.00 351.27,600.51 351.80,604.12 352.33,606.92 352.85,609.01 353.38,610.52 353.90,611.58 354.43,612.29 354.95,612.76 355.48,613.06 356.00,613.24 356.52,613.35" fill="none" stroke="#f7bfa0" stroke-width="1.7" stroke-linejoin="round"/>
<polyline points="285.65,613.38 286.18,613.17 286.70,612.70 287.23,611.70 287.75,609.74 288.27,606.29 288.80,600.73 289.32,592.67 289.85,582.16 290.38,570.02 290.90,557.89 291.43,547.89 291.95,542.04 292.48,541.55 293.00,546.36 293.52,555.14 294.05,565.81 294.57,576.28 295.10,585.07 295.62,591.53 296.15,595.72 296.68,598.08 297.20,599.18 297.73,599.53 298.25,599.48 298.77,599.30 299.30,599.12 299.82,599.03 300.35,599.08 300.88,599.26 301.40,599.58 301.93,600.01 302.45,600.50 302.98,601.00 303.50,601.45 304.02,601.81 304.55,602.02 305.07,602.07 305.60,601.95 306.12,601.67 306.65,601.28 307.18,600.81 307.70,600.32 308.23,599.86 308.75,599.49 309.27,599.22 309.80,599.08 310.32,599.05 310.85,599.12 311.38,599.26 311.90,599.43 312.43,599.59 312.95,599.71 313.48,599.78 314.00,599.79 314.52,599.76 315.05,599.71 315.57,599.67 316.10,599.68 316.62,599.76 317.15,599.93 317.68,599.74 318.20,599.62 318.73,599.54 319.25,599.47 319.77,599.34 320.30,599.12 320.82,598.77 321.35,598.26 321.88,597.59 322.40,596.78 322.93,595.85 323.45,594.87 323.98,593.87 324.50,592.93 325.02,592.09 325.55,591.39 326.07,590.84 326.60,590.45 327.12,590.19 327.65,590.02 328.18,589.91 328.70,589.80 329.23,589.66 329.75,589.44 330.27,589.14 330.80,588.75 331.32,588.27 331.85,587.74 332.38,587.18 332.90,586.60 333.43,586.01 333.95,585.41 334.48,584.77 335.00,584.05 335.52,583.19 336.05,582.11 336.57,580.74 337.10,579.02 337.62,576.91 338.15,574.36 338.68,571.40 339.20,568.08 339.73,564.47 340.25,560.70 340.77,556.91 341.30,553.30 341.83,550.05 342.35,547.36 342.88,545.43 343.40,544.47 343.93,544.61 344.45,545.98 344.98,548.58 345.50,552.61 346.02,558.09 346.55,564.78 347.08,571.90 347.60,578.96 348.12,585.61 348.65,591.59 349.18,596.76 349.70,601.05 350.23,604.51 350.75,607.18 351.27,609.19 351.80,610.64 352.33,611.65 352.85,612.34 353.38,612.79 353.90,613.08 354.43,613.25 354.95,613.36" fill="none" stroke="#f2a0a8" stroke-width="1.7" stroke-linejoin="round"/>
<polyline points="285.65,613.37 286.18,613.15 286.70,612.65 287.23,611.58 287.75,609.49 288.27,605.81 288.80,599.88 289.32,591.27 289.85,580.06 290.38,567.12 290.90,554.18 291.43,543.52 291.95,537.31 292.48,536.83 293.00,542.04 293.52,551.52 294.05,563.06 294.57,574.42 295.10,583.97 295.62,591.00 296.15,595.54 296.68,598.07 297.20,599.19 297.73,599.46 298.25,599.30 298.77,598.98 299.30,598.64 299.82,598.40 300.35,598.28 300.88,598.31 301.40,598.48 301.93,598.77 302.45,599.15 302.98,599.56 303.50,599.98 304.02,600.35 304.55,600.63 305.07,600.80 305.60,600.87 306.12,600.82 306.65,600.69 307.18,600.50 307.70,600.28 308.23,600.08 308.75,599.91 309.27,599.79 309.80,599.73 310.32,599.72 310.85,599.73 311.38,599.74 311.90,599.73 312.43,599.68 312.95,599.58 313.48,599.41 314.00,599.21 314.52,598.98 315.05,598.76 315.57,598.59 316.10,598.49 316.62,598.50 317.15,598.62 317.68,598.22 318.20,597.92 318.73,597.69 319.25,597.48 319.77,597.25 320.30,596.96 320.82,596.57 321.35,596.06 321.88,595.41 322.40,594.64 322.93,593.76 323.45,592.80 323.98,591.82 324.50,590.85 325.02,589.92 325.55,589.06 326.07,588.28 326.60,587.59 327.12,586.96 327.65,586.38 328.18,585.82 328.70,585.24 329.23,584.63 329.75,583.98 330.27,583.27 330.80,582.52 331.32,581.74 331.85,580.95 332.38,580.16 332.90,579.38 333.43,578.60 333.95,577.78 334.48,576.87 335.00,575.82 335.52,574.52 336.05,572.90 336.57,570.85 337.10,568.31 337.62,565.23 338.15,561.59 338.68,557.44 339.20,552.88 339.73,548.05 340.25,543.16 340.77,538.49 341.30,534.33 341.83,531.01 342.35,528.87 342.88,528.21 343.40,529.26 343.93,532.10 344.45,536.83 344.98,543.29 345.50,551.21 346.02,559.62 346.55,567.99 347.08,575.91 347.60,583.12 348.12,589.48 348.65,594.93 349.18,599.47 349.70,603.15 350.23,606.04 350.75,608.26 351.27,609.91 351.80,611.10 352.33,611.93 352.85,612.50 353.38,612.88 353.90,613.12 354.43,613.28 354.95,613.37" fill="none" stroke="#e2505a" stroke-width="1.7" stroke-linejoin="round"/>
<polyline points="284.07,613.37 284.60,613.18 285.12,612.79 285.65,612.00 286.18,610.52 286.70,607.93 287.23,603.73 287.75,597.38 288.27,588.53 288.80,577.17 289.32,563.81 289.85,549.66 290.38,536.40 290.90,525.97 291.43,520.04 291.95,520.13 292.48,529.11 293.00,544.55 293.52,561.97 294.05,577.41 294.57,588.65 295.10,595.44 295.62,598.74 296.15,599.84 296.68,599.83 297.20,599.41 297.73,598.93 298.25,598.53 298.77,598.27 299.30,598.14 299.82,598.11 300.35,598.15 300.88,598.23 301.40,598.31 301.93,598.36 302.45,598.38 302.98,598.35 303.50,598.30 304.02,598.23 304.55,598.17 305.07,598.16 305.60,598.21 306.12,598.34 306.65,598.55 307.18,598.83 307.70,599.16 308.23,599.50 308.75,599.81 309.27,600.05 309.80,600.18 310.32,600.20 310.85,600.08 311.38,599.83 311.90,599.48 312.43,599.07 312.95,598.64 313.48,598.23 314.00,597.89 314.52,597.65 315.05,597.52 315.57,597.51 316.10,597.61 316.62,597.79 317.15,598.01 317.68,598.03 318.20,598.03 318.73,597.98 319.25,597.87 319.77,597.71 320.30,597.50 320.82,597.27 321.35,597.03 321.88,596.82 322.40,596.64 322.93,596.53 323.45,596.46 323.98,596.43 324.50,596.41 325.02,596.37 325.55,596.27 326.07,596.10 326.60,595.81 327.12,595.42 327.65,594.92 328.18,594.33 328.70,593.70 329.23,593.06 329.75,592.45 330.27,591.93 330.80,591.51 331.32,591.23 331.85,591.08 332.38,591.06 332.90,591.13 333.43,591.26 333.95,591.40 334.48,591.52 335.00,591.57 335.52,591.55 336.05,591.44 336.57,591.24 337.10,590.98 337.62,590.66 338.15,590.33 338.68,589.99 339.20,589.65 339.73,589.29 340.25,588.85 340.77,588.24 341.30,587.33 341.83,585.92 342.35,583.78 342.88,580.64 343.40,576.25 343.93,570.39 344.45,562.97 344.98,554.09 345.50,544.08 346.02,533.55 346.55,523.35 347.08,514.49 347.60,508.00 348.12,504.77 348.65,505.36 349.18,510.82 349.70,521.41 350.23,535.66 350.75,551.43 351.27,566.79 351.80,580.31 352.33,591.20 352.85,599.31 353.38,604.92 353.90,608.55 354.43,610.75 354.95,612.02 355.48,612.71 356.00,613.07 356.52,613.27 357.05,613.36" fill="none" stroke="#f0901c" stroke-width="1.7" stroke-linejoin="round"/>
<polyline points="282.50,613.38 283.02,613.24 283.55,612.99 284.07,612.54 284.60,611.75 285.12,610.44 285.65,608.35 286.18,605.18 286.70,600.58 287.23,594.23 287.75,585.87 288.27,575.45 288.80,563.14 289.32,549.46 289.85,535.24 290.38,521.59 290.90,509.73 291.43,500.84 291.95,495.80 292.48,494.97 293.00,497.63 293.52,503.24 294.05,511.08 294.57,520.39 295.10,530.50 295.62,540.86 296.15,550.97 296.68,560.36 297.20,568.65 297.73,575.58 298.25,581.10 298.77,585.28 299.30,588.28 299.82,590.34 300.35,591.69 300.88,592.53 301.40,593.06 301.93,593.40 302.45,593.65 302.98,593.87 303.50,594.08 304.02,594.28 304.55,594.46 305.07,594.58 305.60,594.63 306.12,594.58 306.65,594.42 307.18,594.17 307.70,593.83 308.23,593.43 308.75,593.03 309.27,592.66 309.80,592.37 310.32,592.18 310.85,592.13 311.38,592.21 311.90,592.42 312.43,592.73 312.95,593.10 313.48,593.50 314.00,593.86 314.52,594.17 315.05,594.40 315.57,594.53 316.10,594.56 316.62,594.52 317.15,594.42 317.68,594.30 318.20,594.19 318.73,594.10 319.25,594.06 319.77,594.05 320.30,594.09 320.82,594.14 321.35,594.18 321.88,594.18 322.40,594.12 322.93,594.00 323.45,593.79 323.98,593.53 324.50,593.23 325.02,592.92 325.55,592.65 326.07,592.45 326.60,592.36 327.12,592.38 327.65,592.53 328.18,592.80 328.70,593.15 329.23,593.54 329.75,593.94 330.27,594.28 330.80,594.53 331.32,594.66 331.85,594.63 332.38,594.45 332.90,594.13 333.43,593.69 333.95,593.15 334.48,592.56 335.00,591.93 335.52,591.29 336.05,590.65 336.57,590.00 337.10,589.34 337.62,588.64 338.15,587.89 338.68,587.06 339.20,586.15 339.73,585.17 340.25,584.12 340.77,583.05 341.30,581.99 341.83,581.01 342.35,580.17 342.88,579.51 343.40,579.09 343.93,578.95 344.45,579.12 344.98,579.60 345.50,580.41 346.02,581.58 346.55,583.15 347.08,585.11 347.60,587.41 348.12,589.99 348.65,592.76 349.18,595.58 349.70,598.32 350.23,600.87 350.75,603.15 351.27,605.13 351.80,606.81 352.33,608.21 352.85,609.36 353.38,610.29 353.90,611.04 354.43,611.64 354.95,612.11 355.48,612.47 356.00,612.75 356.52,612.96 357.05,613.11 357.58,613.23 358.10,613.31" fill="none" stroke="#70c030" stroke-width="1.7" stroke-linejoin="round"/>
<polyline points="278.82,613.35 279.35,613.22 279.88,613.01 280.40,612.66 280.93,612.10 281.45,611.22 281.98,609.90 282.50,607.96 283.02,605.21 283.55,601.43 284.07,596.42 284.60,590.00 285.12,582.04 285.65,572.53 286.18,561.62 286.70,549.59 287.23,536.92 287.75,524.24 288.27,512.30 288.80,501.85 289.32,493.63 289.85,488.19 290.38,485.88 290.90,486.73 291.43,490.50 291.95,496.73 292.48,504.83 293.00,514.26 293.52,524.54 294.05,535.18 294.57,545.69 295.10,555.58 295.62,564.43 296.15,571.98 296.68,578.14 297.20,582.96 297.73,586.61 298.25,589.27 298.77,591.18 299.30,592.53 299.82,593.49 300.35,594.20 300.88,594.74 301.40,595.16 301.93,595.48 302.45,595.69 302.98,595.79 303.50,595.78 304.02,595.64 304.55,595.39 305.07,595.05 305.60,594.65 306.12,594.25 306.65,593.88 307.18,593.58 307.70,593.40 308.23,593.34 308.75,593.43 309.27,593.63 309.80,593.93 310.32,594.30 310.85,594.68 311.38,595.04 311.90,595.35 312.43,595.57 312.95,595.70 313.48,595.75 314.00,595.72 314.52,595.65 315.05,595.56 315.57,595.48 316.10,595.44 316.62,595.43 317.15,595.47 317.68,595.54 318.20,595.62 318.73,595.67 319.25,595.69 319.77,595.63 320.30,595.50 320.82,595.29 321.35,595.01 321.88,594.69 322.40,594.38 322.93,594.10 323.45,593.89 323.98,593.80 324.50,593.83 325.02,593.99 325.55,594.27 326.07,594.64 326.60,595.07 327.12,595.49 327.65,595.88 328.18,596.18 328.70,596.37 329.23,596.42 329.75,596.34 330.27,596.14 330.80,595.83 331.32,595.46 331.85,595.04 332.38,594.60 332.90,594.17 333.43,593.74 333.95,593.30 334.48,592.85 335.00,592.34 335.52,591.76 336.05,591.07 336.57,590.26 337.10,589.33 337.62,588.29 338.15,587.16 338.68,585.98 339.20,584.80 339.73,583.67 340.25,582.65 340.77,581.77 341.30,581.06 341.83,580.55 342.35,580.23 342.88,580.09 343.40,580.13 343.93,580.31 344.45,580.62 344.98,581.10 345.50,581.82 346.02,582.83 346.55,584.20 347.08,585.96 347.60,588.14 348.12,590.70 348.65,593.55 349.18,596.50 349.70,599.37 350.23,602.01 350.75,604.32 351.27,606.26 351.80,607.86 352.33,609.15 352.85,610.17 353.38,610.98 353.90,611.61 354.43,612.10 354.95,612.47 355.48,612.76 356.00,612.97 356.52,613.13 357.05,613.24 357.58,613.32" fill="none" stroke="#3c8a1a" stroke-width="1.7" stroke-linejoin="round"/>
<text x="330.6" y="468.7" font-size="11.3" text-anchor="middle" textLength="77.5" lengthAdjust="spacingAndGlyphs" fill="#111" style="font-family:'Liberation Sans',Arial,sans-serif">30 ng/mL MMC</text>
<g style="font-family:'Liberation Sans',Arial,sans-serif">
<rect x="418.6" y="473.9" width="6.4" height="6.2" fill="none" stroke="#4a7a3a" stroke-width="1.2"/>
<text x="431.2" y="480.5" font-size="10.3" textLength="14.7" lengthAdjust="spacingAndGlyphs" fill="#111">+/+</text>
<rect x="418.6" y="485.4" width="6.4" height="6.2" fill="none" stroke="#7ab85a" stroke-width="1.2"/>
<text x="431.2" y="492.0" font-size="10.3" textLength="13.8" lengthAdjust="spacingAndGlyphs" fill="#111">+/-</text>
<rect x="418.6" y="496.5" width="6.4" height="6.2" fill="none" stroke="#e89a50" stroke-width="1.2"/>
<text x="431.2" y="503.1" font-size="10.3" textLength="26.1" lengthAdjust="spacingAndGlyphs" fill="#111">P47A</text>
<text x="457.6" y="499.8" font-size="8" fill="#111" textLength="7.2" lengthAdjust="spacingAndGlyphs">-/-</text>
<rect x="418.6" y="508.0" width="6.4" height="6.2" fill="none" stroke="#f5c4a4" stroke-width="1.2"/>
<text x="431.2" y="514.6" font-size="10.3" textLength="33.2" lengthAdjust="spacingAndGlyphs" fill="#111">D791V</text>
<text x="464.6" y="511.3" font-size="8" fill="#111" textLength="9.2" lengthAdjust="spacingAndGlyphs">-/-</text>
<rect x="418.6" y="519.5" width="6.4" height="6.2" fill="none" stroke="#eaa8b0" stroke-width="1.2"/>
<text x="431.2" y="526.1" font-size="10.3" textLength="32.3" lengthAdjust="spacingAndGlyphs" fill="#111">A349P</text>
<text x="464.6" y="522.8" font-size="8" fill="#111" textLength="9.2" lengthAdjust="spacingAndGlyphs">-/-</text>
<rect x="418.6" y="530.3" width="6.4" height="6.2" fill="none" stroke="#d85a68" stroke-width="1.2"/>
<text x="431.2" y="536.9" font-size="10.3" textLength="10.2" lengthAdjust="spacingAndGlyphs" fill="#111">-/-</text>
<rect x="418.6" y="542.5" width="6.4" height="6.2" fill="none" stroke="#cfe4c4" stroke-width="1.2"/>
<text x="431.2" y="549.1" font-size="10.3" textLength="30.8" lengthAdjust="spacingAndGlyphs" fill="#111">A745T</text>
<text x="464.8" y="545.8" font-size="8" fill="#111" textLength="9.0" lengthAdjust="spacingAndGlyphs">-/-</text>
<line x1="477.8" y1="495.2" x2="477.8" y2="535.1" stroke="#222" stroke-width="1.1"/>
<text x="484.8" y="516.3" font-size="9.6" fill="#111" textLength="35.4" lengthAdjust="spacingAndGlyphs"><tspan font-style="italic">P</tspan> &lt; 0.01</text>
<text x="485.5" y="547.4" font-size="9.4" fill="#222">n.s.</text>
</g>
</svg>
</body></html>
